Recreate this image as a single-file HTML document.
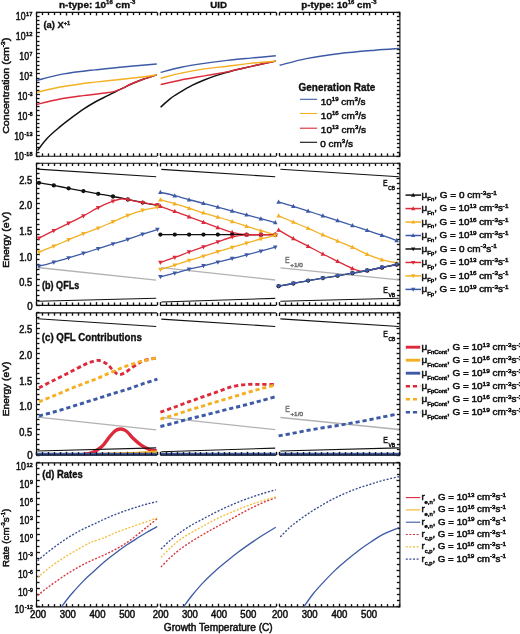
<!DOCTYPE html>
<html><head><meta charset="utf-8"><title>Quasi-Fermi level figure</title>
<style>html,body{margin:0;padding:0;background:#fff;overflow:hidden;}svg{display:block;}</style>
</head><body>
<svg width="520" height="634" viewBox="0 0 520 634" font-family="'Liberation Sans', sans-serif">
<rect width="520" height="634" fill="#fff"/>
<g stroke="#111" stroke-width="1.15" fill="none">
<line x1="36.5" y1="12.3" x2="157.2" y2="12.3"/>
<line x1="36.5" y1="156.2" x2="157.2" y2="156.2"/>
<line x1="160.3" y1="12.3" x2="276.2" y2="12.3"/>
<line x1="160.3" y1="156.2" x2="276.2" y2="156.2"/>
<line x1="279.4" y1="12.3" x2="399.9" y2="12.3"/>
<line x1="279.4" y1="156.2" x2="399.9" y2="156.2"/>
<line x1="36.5" y1="11.75" x2="36.5" y2="156.75"/>
<line x1="399.9" y1="11.75" x2="399.9" y2="156.75"/>
</g><g stroke="#111" stroke-width="1.35" fill="none">
<line x1="36.5" y1="12.3" x2="36.5" y2="15.5"/>
<line x1="36.5" y1="156.2" x2="36.5" y2="153"/>
<line x1="42.5" y1="12.3" x2="42.5" y2="15.1"/>
<line x1="42.5" y1="156.2" x2="42.5" y2="153.4"/>
<line x1="48.5" y1="12.3" x2="48.5" y2="15.1"/>
<line x1="48.5" y1="156.2" x2="48.5" y2="153.4"/>
<line x1="54.5" y1="12.3" x2="54.5" y2="15.1"/>
<line x1="54.5" y1="156.2" x2="54.5" y2="153.4"/>
<line x1="60.5" y1="12.3" x2="60.5" y2="15.1"/>
<line x1="60.5" y1="156.2" x2="60.5" y2="153.4"/>
<line x1="66.5" y1="12.3" x2="66.5" y2="15.5"/>
<line x1="66.5" y1="156.2" x2="66.5" y2="153"/>
<line x1="72.5" y1="12.3" x2="72.5" y2="15.1"/>
<line x1="72.5" y1="156.2" x2="72.5" y2="153.4"/>
<line x1="78.5" y1="12.3" x2="78.5" y2="15.1"/>
<line x1="78.5" y1="156.2" x2="78.5" y2="153.4"/>
<line x1="84.5" y1="12.3" x2="84.5" y2="15.1"/>
<line x1="84.5" y1="156.2" x2="84.5" y2="153.4"/>
<line x1="90.5" y1="12.3" x2="90.5" y2="15.1"/>
<line x1="90.5" y1="156.2" x2="90.5" y2="153.4"/>
<line x1="96.5" y1="12.3" x2="96.5" y2="15.5"/>
<line x1="96.5" y1="156.2" x2="96.5" y2="153"/>
<line x1="102.5" y1="12.3" x2="102.5" y2="15.1"/>
<line x1="102.5" y1="156.2" x2="102.5" y2="153.4"/>
<line x1="108.5" y1="12.3" x2="108.5" y2="15.1"/>
<line x1="108.5" y1="156.2" x2="108.5" y2="153.4"/>
<line x1="114.5" y1="12.3" x2="114.5" y2="15.1"/>
<line x1="114.5" y1="156.2" x2="114.5" y2="153.4"/>
<line x1="120.5" y1="12.3" x2="120.5" y2="15.1"/>
<line x1="120.5" y1="156.2" x2="120.5" y2="153.4"/>
<line x1="127.5" y1="12.3" x2="127.5" y2="15.5"/>
<line x1="127.5" y1="156.2" x2="127.5" y2="153"/>
<line x1="133.5" y1="12.3" x2="133.5" y2="15.1"/>
<line x1="133.5" y1="156.2" x2="133.5" y2="153.4"/>
<line x1="139.5" y1="12.3" x2="139.5" y2="15.1"/>
<line x1="139.5" y1="156.2" x2="139.5" y2="153.4"/>
<line x1="145.5" y1="12.3" x2="145.5" y2="15.1"/>
<line x1="145.5" y1="156.2" x2="145.5" y2="153.4"/>
<line x1="151.5" y1="12.3" x2="151.5" y2="15.1"/>
<line x1="151.5" y1="156.2" x2="151.5" y2="153.4"/>
<line x1="157.5" y1="12.3" x2="157.5" y2="15.5"/>
<line x1="157.5" y1="156.2" x2="157.5" y2="153"/>
<line x1="160.5" y1="12.3" x2="160.5" y2="15.5"/>
<line x1="160.5" y1="156.2" x2="160.5" y2="153"/>
<line x1="166.5" y1="12.3" x2="166.5" y2="15.1"/>
<line x1="166.5" y1="156.2" x2="166.5" y2="153.4"/>
<line x1="171.5" y1="12.3" x2="171.5" y2="15.1"/>
<line x1="171.5" y1="156.2" x2="171.5" y2="153.4"/>
<line x1="177.5" y1="12.3" x2="177.5" y2="15.1"/>
<line x1="177.5" y1="156.2" x2="177.5" y2="153.4"/>
<line x1="183.5" y1="12.3" x2="183.5" y2="15.1"/>
<line x1="183.5" y1="156.2" x2="183.5" y2="153.4"/>
<line x1="189.5" y1="12.3" x2="189.5" y2="15.5"/>
<line x1="189.5" y1="156.2" x2="189.5" y2="153"/>
<line x1="195.5" y1="12.3" x2="195.5" y2="15.1"/>
<line x1="195.5" y1="156.2" x2="195.5" y2="153.4"/>
<line x1="200.5" y1="12.3" x2="200.5" y2="15.1"/>
<line x1="200.5" y1="156.2" x2="200.5" y2="153.4"/>
<line x1="206.5" y1="12.3" x2="206.5" y2="15.1"/>
<line x1="206.5" y1="156.2" x2="206.5" y2="153.4"/>
<line x1="212.5" y1="12.3" x2="212.5" y2="15.1"/>
<line x1="212.5" y1="156.2" x2="212.5" y2="153.4"/>
<line x1="218.5" y1="12.3" x2="218.5" y2="15.5"/>
<line x1="218.5" y1="156.2" x2="218.5" y2="153"/>
<line x1="224.5" y1="12.3" x2="224.5" y2="15.1"/>
<line x1="224.5" y1="156.2" x2="224.5" y2="153.4"/>
<line x1="229.5" y1="12.3" x2="229.5" y2="15.1"/>
<line x1="229.5" y1="156.2" x2="229.5" y2="153.4"/>
<line x1="235.5" y1="12.3" x2="235.5" y2="15.1"/>
<line x1="235.5" y1="156.2" x2="235.5" y2="153.4"/>
<line x1="241.5" y1="12.3" x2="241.5" y2="15.1"/>
<line x1="241.5" y1="156.2" x2="241.5" y2="153.4"/>
<line x1="247.5" y1="12.3" x2="247.5" y2="15.5"/>
<line x1="247.5" y1="156.2" x2="247.5" y2="153"/>
<line x1="253.5" y1="12.3" x2="253.5" y2="15.1"/>
<line x1="253.5" y1="156.2" x2="253.5" y2="153.4"/>
<line x1="258.5" y1="12.3" x2="258.5" y2="15.1"/>
<line x1="258.5" y1="156.2" x2="258.5" y2="153.4"/>
<line x1="264.5" y1="12.3" x2="264.5" y2="15.1"/>
<line x1="264.5" y1="156.2" x2="264.5" y2="153.4"/>
<line x1="270.5" y1="12.3" x2="270.5" y2="15.1"/>
<line x1="270.5" y1="156.2" x2="270.5" y2="153.4"/>
<line x1="276.5" y1="12.3" x2="276.5" y2="15.5"/>
<line x1="276.5" y1="156.2" x2="276.5" y2="153"/>
<line x1="279.5" y1="12.3" x2="279.5" y2="15.5"/>
<line x1="279.5" y1="156.2" x2="279.5" y2="153"/>
<line x1="285.5" y1="12.3" x2="285.5" y2="15.1"/>
<line x1="285.5" y1="156.2" x2="285.5" y2="153.4"/>
<line x1="291.5" y1="12.3" x2="291.5" y2="15.1"/>
<line x1="291.5" y1="156.2" x2="291.5" y2="153.4"/>
<line x1="297.5" y1="12.3" x2="297.5" y2="15.1"/>
<line x1="297.5" y1="156.2" x2="297.5" y2="153.4"/>
<line x1="303.5" y1="12.3" x2="303.5" y2="15.1"/>
<line x1="303.5" y1="156.2" x2="303.5" y2="153.4"/>
<line x1="309.5" y1="12.3" x2="309.5" y2="15.5"/>
<line x1="309.5" y1="156.2" x2="309.5" y2="153"/>
<line x1="315.5" y1="12.3" x2="315.5" y2="15.1"/>
<line x1="315.5" y1="156.2" x2="315.5" y2="153.4"/>
<line x1="321.5" y1="12.3" x2="321.5" y2="15.1"/>
<line x1="321.5" y1="156.2" x2="321.5" y2="153.4"/>
<line x1="327.5" y1="12.3" x2="327.5" y2="15.1"/>
<line x1="327.5" y1="156.2" x2="327.5" y2="153.4"/>
<line x1="333.5" y1="12.3" x2="333.5" y2="15.1"/>
<line x1="333.5" y1="156.2" x2="333.5" y2="153.4"/>
<line x1="339.5" y1="12.3" x2="339.5" y2="15.5"/>
<line x1="339.5" y1="156.2" x2="339.5" y2="153"/>
<line x1="345.5" y1="12.3" x2="345.5" y2="15.1"/>
<line x1="345.5" y1="156.2" x2="345.5" y2="153.4"/>
<line x1="351.5" y1="12.3" x2="351.5" y2="15.1"/>
<line x1="351.5" y1="156.2" x2="351.5" y2="153.4"/>
<line x1="357.5" y1="12.3" x2="357.5" y2="15.1"/>
<line x1="357.5" y1="156.2" x2="357.5" y2="153.4"/>
<line x1="363.5" y1="12.3" x2="363.5" y2="15.1"/>
<line x1="363.5" y1="156.2" x2="363.5" y2="153.4"/>
<line x1="369.5" y1="12.3" x2="369.5" y2="15.5"/>
<line x1="369.5" y1="156.2" x2="369.5" y2="153"/>
<line x1="375.5" y1="12.3" x2="375.5" y2="15.1"/>
<line x1="375.5" y1="156.2" x2="375.5" y2="153.4"/>
<line x1="381.5" y1="12.3" x2="381.5" y2="15.1"/>
<line x1="381.5" y1="156.2" x2="381.5" y2="153.4"/>
<line x1="387.5" y1="12.3" x2="387.5" y2="15.1"/>
<line x1="387.5" y1="156.2" x2="387.5" y2="153.4"/>
<line x1="393.5" y1="12.3" x2="393.5" y2="15.1"/>
<line x1="393.5" y1="156.2" x2="393.5" y2="153.4"/>
<line x1="399.5" y1="12.3" x2="399.5" y2="15.5"/>
<line x1="399.5" y1="156.2" x2="399.5" y2="153"/>
<line x1="36.5" y1="156.5" x2="39.9" y2="156.5"/>
<line x1="399.9" y1="156.5" x2="396.5" y2="156.5"/>
<line x1="36.5" y1="152.5" x2="39.5" y2="152.5"/>
<line x1="399.9" y1="152.5" x2="396.9" y2="152.5"/>
<line x1="36.5" y1="147.5" x2="39.5" y2="147.5"/>
<line x1="399.9" y1="147.5" x2="396.9" y2="147.5"/>
<line x1="36.5" y1="143.5" x2="39.5" y2="143.5"/>
<line x1="399.9" y1="143.5" x2="396.9" y2="143.5"/>
<line x1="36.5" y1="139.5" x2="39.5" y2="139.5"/>
<line x1="399.9" y1="139.5" x2="396.9" y2="139.5"/>
<line x1="36.5" y1="135.5" x2="39.9" y2="135.5"/>
<line x1="399.9" y1="135.5" x2="396.5" y2="135.5"/>
<line x1="36.5" y1="131.5" x2="39.5" y2="131.5"/>
<line x1="399.9" y1="131.5" x2="396.9" y2="131.5"/>
<line x1="36.5" y1="127.5" x2="39.5" y2="127.5"/>
<line x1="399.9" y1="127.5" x2="396.9" y2="127.5"/>
<line x1="36.5" y1="123.5" x2="39.5" y2="123.5"/>
<line x1="399.9" y1="123.5" x2="396.9" y2="123.5"/>
<line x1="36.5" y1="119.5" x2="39.5" y2="119.5"/>
<line x1="399.9" y1="119.5" x2="396.9" y2="119.5"/>
<line x1="36.5" y1="115.5" x2="39.9" y2="115.5"/>
<line x1="399.9" y1="115.5" x2="396.5" y2="115.5"/>
<line x1="36.5" y1="110.5" x2="39.5" y2="110.5"/>
<line x1="399.9" y1="110.5" x2="396.9" y2="110.5"/>
<line x1="36.5" y1="106.5" x2="39.5" y2="106.5"/>
<line x1="399.9" y1="106.5" x2="396.9" y2="106.5"/>
<line x1="36.5" y1="102.5" x2="39.5" y2="102.5"/>
<line x1="399.9" y1="102.5" x2="396.9" y2="102.5"/>
<line x1="36.5" y1="98.5" x2="39.5" y2="98.5"/>
<line x1="399.9" y1="98.5" x2="396.9" y2="98.5"/>
<line x1="36.5" y1="94.5" x2="39.9" y2="94.5"/>
<line x1="399.9" y1="94.5" x2="396.5" y2="94.5"/>
<line x1="36.5" y1="90.5" x2="39.5" y2="90.5"/>
<line x1="399.9" y1="90.5" x2="396.9" y2="90.5"/>
<line x1="36.5" y1="86.5" x2="39.5" y2="86.5"/>
<line x1="399.9" y1="86.5" x2="396.9" y2="86.5"/>
<line x1="36.5" y1="82.5" x2="39.5" y2="82.5"/>
<line x1="399.9" y1="82.5" x2="396.9" y2="82.5"/>
<line x1="36.5" y1="78.5" x2="39.5" y2="78.5"/>
<line x1="399.9" y1="78.5" x2="396.9" y2="78.5"/>
<line x1="36.5" y1="73.5" x2="39.9" y2="73.5"/>
<line x1="399.9" y1="73.5" x2="396.5" y2="73.5"/>
<line x1="36.5" y1="69.5" x2="39.5" y2="69.5"/>
<line x1="399.9" y1="69.5" x2="396.9" y2="69.5"/>
<line x1="36.5" y1="65.5" x2="39.5" y2="65.5"/>
<line x1="399.9" y1="65.5" x2="396.9" y2="65.5"/>
<line x1="36.5" y1="61.5" x2="39.5" y2="61.5"/>
<line x1="399.9" y1="61.5" x2="396.9" y2="61.5"/>
<line x1="36.5" y1="57.5" x2="39.5" y2="57.5"/>
<line x1="399.9" y1="57.5" x2="396.9" y2="57.5"/>
<line x1="36.5" y1="53.5" x2="39.9" y2="53.5"/>
<line x1="399.9" y1="53.5" x2="396.5" y2="53.5"/>
<line x1="36.5" y1="49.5" x2="39.5" y2="49.5"/>
<line x1="399.9" y1="49.5" x2="396.9" y2="49.5"/>
<line x1="36.5" y1="45.5" x2="39.5" y2="45.5"/>
<line x1="399.9" y1="45.5" x2="396.9" y2="45.5"/>
<line x1="36.5" y1="41.5" x2="39.5" y2="41.5"/>
<line x1="399.9" y1="41.5" x2="396.9" y2="41.5"/>
<line x1="36.5" y1="36.5" x2="39.5" y2="36.5"/>
<line x1="399.9" y1="36.5" x2="396.9" y2="36.5"/>
<line x1="36.5" y1="32.5" x2="39.9" y2="32.5"/>
<line x1="399.9" y1="32.5" x2="396.5" y2="32.5"/>
<line x1="36.5" y1="28.5" x2="39.5" y2="28.5"/>
<line x1="399.9" y1="28.5" x2="396.9" y2="28.5"/>
<line x1="36.5" y1="24.5" x2="39.5" y2="24.5"/>
<line x1="399.9" y1="24.5" x2="396.9" y2="24.5"/>
<line x1="36.5" y1="20.5" x2="39.5" y2="20.5"/>
<line x1="399.9" y1="20.5" x2="396.9" y2="20.5"/>
<line x1="36.5" y1="16.5" x2="39.5" y2="16.5"/>
<line x1="399.9" y1="16.5" x2="396.9" y2="16.5"/>
<line x1="36.5" y1="12.5" x2="39.9" y2="12.5"/>
<line x1="399.9" y1="12.5" x2="396.5" y2="12.5"/>
</g>
<path d="M37.5,150.5 C39.08,148.5 43.42,142.32 47,138.5 C50.58,134.68 55,130.98 59,127.6 C63,124.22 66.98,121.23 71,118.2 C75.02,115.17 79.08,112.1 83.1,109.4 C87.12,106.7 91.1,104.25 95.1,102 C99.1,99.75 103.5,97.73 107.1,95.9 C110.7,94.07 113.88,92.38 116.7,91 C119.52,89.62 121.58,88.77 124,87.6 C126.42,86.43 128,85.4 131.2,84 C134.4,82.6 138.93,80.73 143.2,79.2 C147.47,77.67 154.53,75.53 156.8,74.8" fill="none" stroke="#111" stroke-width="1.45" stroke-linejoin="round"/>
<path d="M36.9,104.4 C40.58,103.53 51.3,100.67 59,99.2 C66.7,97.73 77.1,96.42 83.1,95.6 C89.1,94.78 91,94.77 95,94.3 C99,93.83 103.93,93.25 107.1,92.8 C110.27,92.35 112.02,92.08 114,91.6 C115.98,91.12 117.33,90.57 119,89.9 C120.67,89.23 121.97,88.58 124,87.6 C126.03,86.62 128,85.4 131.2,84 C134.4,82.6 138.93,80.73 143.2,79.2 C147.47,77.67 154.53,75.53 156.8,74.8" fill="none" stroke="#dc2a3a" stroke-width="1.45" stroke-linejoin="round"/>
<path d="M36.9,92.4 C40.75,91.5 51.98,88.52 60,87 C68.02,85.48 79.17,84.12 85,83.3 C90.83,82.48 89.17,82.73 95,82.1 C100.83,81.47 112.08,80.35 120,79.5 C127.92,78.65 136.37,77.78 142.5,77 C148.63,76.22 154.42,75.17 156.8,74.8" fill="none" stroke="#f4b023" stroke-width="1.45" stroke-linejoin="round"/>
<path d="M36.9,80.4 C40.75,79.43 51.98,76.17 60,74.6 C68.02,73.03 79.17,71.78 85,71 C90.83,70.22 89.17,70.52 95,69.9 C100.83,69.28 109.7,68.28 120,67.3 C130.3,66.32 150.67,64.55 156.8,64" fill="none" stroke="#3d5aa6" stroke-width="1.45" stroke-linejoin="round"/>
<path d="M160.6,107.3 C162.17,105.88 166.58,101.42 170,98.8 C173.42,96.18 177.43,93.83 181.1,91.6 C184.77,89.37 188.15,87.33 192,85.4 C195.85,83.47 200.2,81.63 204.2,80 C208.2,78.37 212.15,76.88 216,75.6 C219.85,74.32 224.27,73.18 227.3,72.3 C230.33,71.42 231.75,70.93 234.2,70.3 C236.65,69.67 239.3,69.12 242,68.5 C244.7,67.88 247.07,67.35 250.4,66.6 C253.73,65.85 257.77,64.92 262,64 C266.23,63.08 273.5,61.58 275.8,61.1" fill="none" stroke="#111" stroke-width="1.45" stroke-linejoin="round"/>
<path d="M160.6,84.6 C164.02,83.83 173.83,81.45 181.1,80 C188.37,78.55 196.5,77.25 204.2,75.9 C211.9,74.55 222.3,72.83 227.3,71.9 C232.3,70.97 231.75,70.87 234.2,70.3 C236.65,69.73 239.3,69.12 242,68.5 C244.7,67.88 247.07,67.35 250.4,66.6 C253.73,65.85 257.77,64.92 262,64 C266.23,63.08 273.5,61.58 275.8,61.1" fill="none" stroke="#dc2a3a" stroke-width="1.45" stroke-linejoin="round"/>
<path d="M160.6,78.2 C164.02,77.35 173.83,74.65 181.1,73.1 C188.37,71.55 196.5,70.05 204.2,68.9 C211.9,67.75 219.6,67.12 227.3,66.2 C235,65.28 242.32,64.25 250.4,63.4 C258.48,62.55 271.57,61.48 275.8,61.1" fill="none" stroke="#f4b023" stroke-width="1.45" stroke-linejoin="round"/>
<path d="M160.6,72.4 C164.02,71.55 173.83,68.8 181.1,67.3 C188.37,65.8 196.5,64.55 204.2,63.4 C211.9,62.25 219.6,61.28 227.3,60.4 C235,59.52 242.32,58.87 250.4,58.1 C258.48,57.33 271.57,56.18 275.8,55.8" fill="none" stroke="#3d5aa6" stroke-width="1.45" stroke-linejoin="round"/>
<path d="M279.6,65.3 C284.25,64.15 297.43,60.37 307.5,58.4 C317.57,56.43 328.75,54.87 340,53.5 C351.25,52.13 365.17,51.03 375,50.2 C384.83,49.37 395,48.78 399,48.5" fill="none" stroke="#3d5aa6" stroke-width="1.45" stroke-linejoin="round"/>
<text x="59" y="7.8" font-size="9.6" font-weight="bold" fill="#111" stroke="#111" stroke-width="0.35" textLength="76.4" lengthAdjust="spacingAndGlyphs">n-type: 10<tspan font-size="5.8" dy="-3.6">16</tspan><tspan dy="3.6"> cm</tspan><tspan font-size="5.8" dy="-3.6">-3</tspan></text>
<text x="210.2" y="7.6" font-size="9.6" font-weight="bold" fill="#111" stroke="#111" stroke-width="0.35" textLength="16.7" lengthAdjust="spacingAndGlyphs">UID</text>
<text x="301.3" y="7.8" font-size="9.6" font-weight="bold" fill="#111" stroke="#111" stroke-width="0.35" textLength="75.2" lengthAdjust="spacingAndGlyphs">p-type: 10<tspan font-size="5.8" dy="-3.6">16</tspan><tspan dy="3.6"> cm</tspan><tspan font-size="5.8" dy="-3.6">-3</tspan></text>
<text x="15.8" y="19.9" font-size="10" font-weight="normal" fill="#111" stroke="#111" stroke-width="0.5" textLength="9.7" lengthAdjust="spacingAndGlyphs">10</text>
<text x="26.1" y="16" font-size="5.4" font-weight="normal" fill="#111" stroke="#111" stroke-width="0.5" textLength="6.4" lengthAdjust="spacingAndGlyphs">17</text>
<text x="15.8" y="39.9" font-size="10" font-weight="normal" fill="#111" stroke="#111" stroke-width="0.5" textLength="9.7" lengthAdjust="spacingAndGlyphs">10</text>
<text x="26.1" y="36" font-size="5.4" font-weight="normal" fill="#111" stroke="#111" stroke-width="0.5" textLength="6.4" lengthAdjust="spacingAndGlyphs">12</text>
<text x="19.3" y="59.9" font-size="10" font-weight="normal" fill="#111" stroke="#111" stroke-width="0.5" textLength="9.7" lengthAdjust="spacingAndGlyphs">10</text>
<text x="29.6" y="56" font-size="5.4" font-weight="normal" fill="#111" stroke="#111" stroke-width="0.5" textLength="2.9" lengthAdjust="spacingAndGlyphs">7</text>
<text x="19.3" y="79.9" font-size="10" font-weight="normal" fill="#111" stroke="#111" stroke-width="0.5" textLength="9.7" lengthAdjust="spacingAndGlyphs">10</text>
<text x="29.6" y="76" font-size="5.4" font-weight="normal" fill="#111" stroke="#111" stroke-width="0.5" textLength="2.9" lengthAdjust="spacingAndGlyphs">2</text>
<text x="17.7" y="99.9" font-size="10" font-weight="normal" fill="#111" stroke="#111" stroke-width="0.5" textLength="9.7" lengthAdjust="spacingAndGlyphs">10</text>
<text x="28" y="96" font-size="5.4" font-weight="normal" fill="#111" stroke="#111" stroke-width="0.5" textLength="4.5" lengthAdjust="spacingAndGlyphs">-3</text>
<text x="17.7" y="119.9" font-size="10" font-weight="normal" fill="#111" stroke="#111" stroke-width="0.5" textLength="9.7" lengthAdjust="spacingAndGlyphs">10</text>
<text x="28" y="116" font-size="5.4" font-weight="normal" fill="#111" stroke="#111" stroke-width="0.5" textLength="4.5" lengthAdjust="spacingAndGlyphs">-8</text>
<text x="14.2" y="139.9" font-size="10" font-weight="normal" fill="#111" stroke="#111" stroke-width="0.5" textLength="9.7" lengthAdjust="spacingAndGlyphs">10</text>
<text x="24.5" y="136" font-size="5.4" font-weight="normal" fill="#111" stroke="#111" stroke-width="0.5" textLength="8" lengthAdjust="spacingAndGlyphs">-13</text>
<text x="14.2" y="159.9" font-size="10" font-weight="normal" fill="#111" stroke="#111" stroke-width="0.5" textLength="9.7" lengthAdjust="spacingAndGlyphs">10</text>
<text x="24.5" y="156" font-size="5.4" font-weight="normal" fill="#111" stroke="#111" stroke-width="0.5" textLength="8" lengthAdjust="spacingAndGlyphs">-18</text>
<text x="0" y="0" font-size="9.8" font-weight="normal" fill="#111" stroke="#111" stroke-width="0.5" textLength="96" lengthAdjust="spacingAndGlyphs" transform="translate(8.6,133.8) rotate(-90)">Concentration (cm<tspan font-size="6" dy="-3.6">-3</tspan><tspan dy="3.6">)</tspan></text>
<text x="43.5" y="28.3" font-size="9.6" font-weight="bold" fill="#111" stroke="#111" stroke-width="0.35" textLength="26.6" lengthAdjust="spacingAndGlyphs">(a) X<tspan font-size="5.8" dy="-3.8">+1</tspan></text>
<text x="298.6" y="90.9" font-size="10" font-weight="bold" fill="#111" stroke="#111" stroke-width="0.35" textLength="76.8" lengthAdjust="spacingAndGlyphs">Generation Rate</text>
<line x1="299.9" y1="99.3" x2="317.1" y2="99.3" stroke="#3d5aa6" stroke-width="1.1"/>
<text x="320.8" y="104.5" font-size="9.6" font-weight="normal" fill="#111" stroke="#111" stroke-width="0.5" textLength="44.8" lengthAdjust="spacingAndGlyphs">10<tspan font-size="5.8" dy="-3.8">19</tspan><tspan dy="3.8"> cm</tspan><tspan font-size="5.8" dy="-3.8">3</tspan><tspan dy="3.8">/s</tspan></text>
<line x1="299.9" y1="113.5" x2="317.1" y2="113.5" stroke="#f4b023" stroke-width="1.1"/>
<text x="320.8" y="118.9" font-size="9.6" font-weight="normal" fill="#111" stroke="#111" stroke-width="0.5" textLength="45.3" lengthAdjust="spacingAndGlyphs">10<tspan font-size="5.8" dy="-3.8">16</tspan><tspan dy="3.8"> cm</tspan><tspan font-size="5.8" dy="-3.8">3</tspan><tspan dy="3.8">/s</tspan></text>
<line x1="299.9" y1="128.2" x2="317.1" y2="128.2" stroke="#dc2a3a" stroke-width="1.1"/>
<text x="320.8" y="133.1" font-size="9.6" font-weight="normal" fill="#111" stroke="#111" stroke-width="0.5" textLength="45.3" lengthAdjust="spacingAndGlyphs">10<tspan font-size="5.8" dy="-3.8">13</tspan><tspan dy="3.8"> cm</tspan><tspan font-size="5.8" dy="-3.8">3</tspan><tspan dy="3.8">/s</tspan></text>
<line x1="299.9" y1="142.3" x2="317.1" y2="142.3" stroke="#111" stroke-width="1.1"/>
<text x="320.3" y="147.2" font-size="9.6" font-weight="normal" fill="#111" stroke="#111" stroke-width="0.5" textLength="32.7" lengthAdjust="spacingAndGlyphs">0 cm<tspan font-size="5.8" dy="-3.8">3</tspan><tspan dy="3.8">/s</tspan></text>
<g stroke="#111" stroke-width="1.15" fill="none">
<line x1="36.5" y1="163.2" x2="157.2" y2="163.2"/>
<line x1="36.5" y1="305.3" x2="157.2" y2="305.3"/>
<line x1="160.3" y1="163.2" x2="276.2" y2="163.2"/>
<line x1="160.3" y1="305.3" x2="276.2" y2="305.3"/>
<line x1="279.4" y1="163.2" x2="399.9" y2="163.2"/>
<line x1="279.4" y1="305.3" x2="399.9" y2="305.3"/>
<line x1="36.5" y1="162.65" x2="36.5" y2="305.85"/>
<line x1="399.9" y1="162.65" x2="399.9" y2="305.85"/>
</g><g stroke="#111" stroke-width="1.35" fill="none">
<line x1="36.5" y1="163.2" x2="36.5" y2="166.4"/>
<line x1="36.5" y1="305.3" x2="36.5" y2="302.1"/>
<line x1="42.5" y1="163.2" x2="42.5" y2="166"/>
<line x1="42.5" y1="305.3" x2="42.5" y2="302.5"/>
<line x1="48.5" y1="163.2" x2="48.5" y2="166"/>
<line x1="48.5" y1="305.3" x2="48.5" y2="302.5"/>
<line x1="54.5" y1="163.2" x2="54.5" y2="166"/>
<line x1="54.5" y1="305.3" x2="54.5" y2="302.5"/>
<line x1="60.5" y1="163.2" x2="60.5" y2="166"/>
<line x1="60.5" y1="305.3" x2="60.5" y2="302.5"/>
<line x1="66.5" y1="163.2" x2="66.5" y2="166.4"/>
<line x1="66.5" y1="305.3" x2="66.5" y2="302.1"/>
<line x1="72.5" y1="163.2" x2="72.5" y2="166"/>
<line x1="72.5" y1="305.3" x2="72.5" y2="302.5"/>
<line x1="78.5" y1="163.2" x2="78.5" y2="166"/>
<line x1="78.5" y1="305.3" x2="78.5" y2="302.5"/>
<line x1="84.5" y1="163.2" x2="84.5" y2="166"/>
<line x1="84.5" y1="305.3" x2="84.5" y2="302.5"/>
<line x1="90.5" y1="163.2" x2="90.5" y2="166"/>
<line x1="90.5" y1="305.3" x2="90.5" y2="302.5"/>
<line x1="96.5" y1="163.2" x2="96.5" y2="166.4"/>
<line x1="96.5" y1="305.3" x2="96.5" y2="302.1"/>
<line x1="102.5" y1="163.2" x2="102.5" y2="166"/>
<line x1="102.5" y1="305.3" x2="102.5" y2="302.5"/>
<line x1="108.5" y1="163.2" x2="108.5" y2="166"/>
<line x1="108.5" y1="305.3" x2="108.5" y2="302.5"/>
<line x1="114.5" y1="163.2" x2="114.5" y2="166"/>
<line x1="114.5" y1="305.3" x2="114.5" y2="302.5"/>
<line x1="120.5" y1="163.2" x2="120.5" y2="166"/>
<line x1="120.5" y1="305.3" x2="120.5" y2="302.5"/>
<line x1="127.5" y1="163.2" x2="127.5" y2="166.4"/>
<line x1="127.5" y1="305.3" x2="127.5" y2="302.1"/>
<line x1="133.5" y1="163.2" x2="133.5" y2="166"/>
<line x1="133.5" y1="305.3" x2="133.5" y2="302.5"/>
<line x1="139.5" y1="163.2" x2="139.5" y2="166"/>
<line x1="139.5" y1="305.3" x2="139.5" y2="302.5"/>
<line x1="145.5" y1="163.2" x2="145.5" y2="166"/>
<line x1="145.5" y1="305.3" x2="145.5" y2="302.5"/>
<line x1="151.5" y1="163.2" x2="151.5" y2="166"/>
<line x1="151.5" y1="305.3" x2="151.5" y2="302.5"/>
<line x1="157.5" y1="163.2" x2="157.5" y2="166.4"/>
<line x1="157.5" y1="305.3" x2="157.5" y2="302.1"/>
<line x1="160.5" y1="163.2" x2="160.5" y2="166.4"/>
<line x1="160.5" y1="305.3" x2="160.5" y2="302.1"/>
<line x1="166.5" y1="163.2" x2="166.5" y2="166"/>
<line x1="166.5" y1="305.3" x2="166.5" y2="302.5"/>
<line x1="171.5" y1="163.2" x2="171.5" y2="166"/>
<line x1="171.5" y1="305.3" x2="171.5" y2="302.5"/>
<line x1="177.5" y1="163.2" x2="177.5" y2="166"/>
<line x1="177.5" y1="305.3" x2="177.5" y2="302.5"/>
<line x1="183.5" y1="163.2" x2="183.5" y2="166"/>
<line x1="183.5" y1="305.3" x2="183.5" y2="302.5"/>
<line x1="189.5" y1="163.2" x2="189.5" y2="166.4"/>
<line x1="189.5" y1="305.3" x2="189.5" y2="302.1"/>
<line x1="195.5" y1="163.2" x2="195.5" y2="166"/>
<line x1="195.5" y1="305.3" x2="195.5" y2="302.5"/>
<line x1="200.5" y1="163.2" x2="200.5" y2="166"/>
<line x1="200.5" y1="305.3" x2="200.5" y2="302.5"/>
<line x1="206.5" y1="163.2" x2="206.5" y2="166"/>
<line x1="206.5" y1="305.3" x2="206.5" y2="302.5"/>
<line x1="212.5" y1="163.2" x2="212.5" y2="166"/>
<line x1="212.5" y1="305.3" x2="212.5" y2="302.5"/>
<line x1="218.5" y1="163.2" x2="218.5" y2="166.4"/>
<line x1="218.5" y1="305.3" x2="218.5" y2="302.1"/>
<line x1="224.5" y1="163.2" x2="224.5" y2="166"/>
<line x1="224.5" y1="305.3" x2="224.5" y2="302.5"/>
<line x1="229.5" y1="163.2" x2="229.5" y2="166"/>
<line x1="229.5" y1="305.3" x2="229.5" y2="302.5"/>
<line x1="235.5" y1="163.2" x2="235.5" y2="166"/>
<line x1="235.5" y1="305.3" x2="235.5" y2="302.5"/>
<line x1="241.5" y1="163.2" x2="241.5" y2="166"/>
<line x1="241.5" y1="305.3" x2="241.5" y2="302.5"/>
<line x1="247.5" y1="163.2" x2="247.5" y2="166.4"/>
<line x1="247.5" y1="305.3" x2="247.5" y2="302.1"/>
<line x1="253.5" y1="163.2" x2="253.5" y2="166"/>
<line x1="253.5" y1="305.3" x2="253.5" y2="302.5"/>
<line x1="258.5" y1="163.2" x2="258.5" y2="166"/>
<line x1="258.5" y1="305.3" x2="258.5" y2="302.5"/>
<line x1="264.5" y1="163.2" x2="264.5" y2="166"/>
<line x1="264.5" y1="305.3" x2="264.5" y2="302.5"/>
<line x1="270.5" y1="163.2" x2="270.5" y2="166"/>
<line x1="270.5" y1="305.3" x2="270.5" y2="302.5"/>
<line x1="276.5" y1="163.2" x2="276.5" y2="166.4"/>
<line x1="276.5" y1="305.3" x2="276.5" y2="302.1"/>
<line x1="279.5" y1="163.2" x2="279.5" y2="166.4"/>
<line x1="279.5" y1="305.3" x2="279.5" y2="302.1"/>
<line x1="285.5" y1="163.2" x2="285.5" y2="166"/>
<line x1="285.5" y1="305.3" x2="285.5" y2="302.5"/>
<line x1="291.5" y1="163.2" x2="291.5" y2="166"/>
<line x1="291.5" y1="305.3" x2="291.5" y2="302.5"/>
<line x1="297.5" y1="163.2" x2="297.5" y2="166"/>
<line x1="297.5" y1="305.3" x2="297.5" y2="302.5"/>
<line x1="303.5" y1="163.2" x2="303.5" y2="166"/>
<line x1="303.5" y1="305.3" x2="303.5" y2="302.5"/>
<line x1="309.5" y1="163.2" x2="309.5" y2="166.4"/>
<line x1="309.5" y1="305.3" x2="309.5" y2="302.1"/>
<line x1="315.5" y1="163.2" x2="315.5" y2="166"/>
<line x1="315.5" y1="305.3" x2="315.5" y2="302.5"/>
<line x1="321.5" y1="163.2" x2="321.5" y2="166"/>
<line x1="321.5" y1="305.3" x2="321.5" y2="302.5"/>
<line x1="327.5" y1="163.2" x2="327.5" y2="166"/>
<line x1="327.5" y1="305.3" x2="327.5" y2="302.5"/>
<line x1="333.5" y1="163.2" x2="333.5" y2="166"/>
<line x1="333.5" y1="305.3" x2="333.5" y2="302.5"/>
<line x1="339.5" y1="163.2" x2="339.5" y2="166.4"/>
<line x1="339.5" y1="305.3" x2="339.5" y2="302.1"/>
<line x1="345.5" y1="163.2" x2="345.5" y2="166"/>
<line x1="345.5" y1="305.3" x2="345.5" y2="302.5"/>
<line x1="351.5" y1="163.2" x2="351.5" y2="166"/>
<line x1="351.5" y1="305.3" x2="351.5" y2="302.5"/>
<line x1="357.5" y1="163.2" x2="357.5" y2="166"/>
<line x1="357.5" y1="305.3" x2="357.5" y2="302.5"/>
<line x1="363.5" y1="163.2" x2="363.5" y2="166"/>
<line x1="363.5" y1="305.3" x2="363.5" y2="302.5"/>
<line x1="369.5" y1="163.2" x2="369.5" y2="166.4"/>
<line x1="369.5" y1="305.3" x2="369.5" y2="302.1"/>
<line x1="375.5" y1="163.2" x2="375.5" y2="166"/>
<line x1="375.5" y1="305.3" x2="375.5" y2="302.5"/>
<line x1="381.5" y1="163.2" x2="381.5" y2="166"/>
<line x1="381.5" y1="305.3" x2="381.5" y2="302.5"/>
<line x1="387.5" y1="163.2" x2="387.5" y2="166"/>
<line x1="387.5" y1="305.3" x2="387.5" y2="302.5"/>
<line x1="393.5" y1="163.2" x2="393.5" y2="166"/>
<line x1="393.5" y1="305.3" x2="393.5" y2="302.5"/>
<line x1="399.5" y1="163.2" x2="399.5" y2="166.4"/>
<line x1="399.5" y1="305.3" x2="399.5" y2="302.1"/>
<line x1="36.5" y1="305.5" x2="39.9" y2="305.5"/>
<line x1="399.9" y1="305.5" x2="396.5" y2="305.5"/>
<line x1="36.5" y1="300.5" x2="39.5" y2="300.5"/>
<line x1="399.9" y1="300.5" x2="396.9" y2="300.5"/>
<line x1="36.5" y1="295.5" x2="39.5" y2="295.5"/>
<line x1="399.9" y1="295.5" x2="396.9" y2="295.5"/>
<line x1="36.5" y1="290.5" x2="39.5" y2="290.5"/>
<line x1="399.9" y1="290.5" x2="396.9" y2="290.5"/>
<line x1="36.5" y1="285.5" x2="39.5" y2="285.5"/>
<line x1="399.9" y1="285.5" x2="396.9" y2="285.5"/>
<line x1="36.5" y1="279.5" x2="39.9" y2="279.5"/>
<line x1="399.9" y1="279.5" x2="396.5" y2="279.5"/>
<line x1="36.5" y1="274.5" x2="39.5" y2="274.5"/>
<line x1="399.9" y1="274.5" x2="396.9" y2="274.5"/>
<line x1="36.5" y1="269.5" x2="39.5" y2="269.5"/>
<line x1="399.9" y1="269.5" x2="396.9" y2="269.5"/>
<line x1="36.5" y1="264.5" x2="39.5" y2="264.5"/>
<line x1="399.9" y1="264.5" x2="396.9" y2="264.5"/>
<line x1="36.5" y1="259.5" x2="39.5" y2="259.5"/>
<line x1="399.9" y1="259.5" x2="396.9" y2="259.5"/>
<line x1="36.5" y1="254.5" x2="39.9" y2="254.5"/>
<line x1="399.9" y1="254.5" x2="396.5" y2="254.5"/>
<line x1="36.5" y1="249.5" x2="39.5" y2="249.5"/>
<line x1="399.9" y1="249.5" x2="396.9" y2="249.5"/>
<line x1="36.5" y1="244.5" x2="39.5" y2="244.5"/>
<line x1="399.9" y1="244.5" x2="396.9" y2="244.5"/>
<line x1="36.5" y1="239.5" x2="39.5" y2="239.5"/>
<line x1="399.9" y1="239.5" x2="396.9" y2="239.5"/>
<line x1="36.5" y1="234.5" x2="39.5" y2="234.5"/>
<line x1="399.9" y1="234.5" x2="396.9" y2="234.5"/>
<line x1="36.5" y1="229.5" x2="39.9" y2="229.5"/>
<line x1="399.9" y1="229.5" x2="396.5" y2="229.5"/>
<line x1="36.5" y1="224.5" x2="39.5" y2="224.5"/>
<line x1="399.9" y1="224.5" x2="396.9" y2="224.5"/>
<line x1="36.5" y1="219.5" x2="39.5" y2="219.5"/>
<line x1="399.9" y1="219.5" x2="396.9" y2="219.5"/>
<line x1="36.5" y1="213.5" x2="39.5" y2="213.5"/>
<line x1="399.9" y1="213.5" x2="396.9" y2="213.5"/>
<line x1="36.5" y1="208.5" x2="39.5" y2="208.5"/>
<line x1="399.9" y1="208.5" x2="396.9" y2="208.5"/>
<line x1="36.5" y1="203.5" x2="39.9" y2="203.5"/>
<line x1="399.9" y1="203.5" x2="396.5" y2="203.5"/>
<line x1="36.5" y1="198.5" x2="39.5" y2="198.5"/>
<line x1="399.9" y1="198.5" x2="396.9" y2="198.5"/>
<line x1="36.5" y1="193.5" x2="39.5" y2="193.5"/>
<line x1="399.9" y1="193.5" x2="396.9" y2="193.5"/>
<line x1="36.5" y1="188.5" x2="39.5" y2="188.5"/>
<line x1="399.9" y1="188.5" x2="396.9" y2="188.5"/>
<line x1="36.5" y1="183.5" x2="39.5" y2="183.5"/>
<line x1="399.9" y1="183.5" x2="396.9" y2="183.5"/>
<line x1="36.5" y1="178.5" x2="39.9" y2="178.5"/>
<line x1="399.9" y1="178.5" x2="396.5" y2="178.5"/>
<line x1="36.5" y1="173.5" x2="39.5" y2="173.5"/>
<line x1="399.9" y1="173.5" x2="396.9" y2="173.5"/>
<line x1="36.5" y1="168.5" x2="39.5" y2="168.5"/>
<line x1="399.9" y1="168.5" x2="396.9" y2="168.5"/>
<line x1="36.5" y1="163.5" x2="39.5" y2="163.5"/>
<line x1="399.9" y1="163.5" x2="396.9" y2="163.5"/>
</g>
<line x1="37.5" y1="169.1" x2="156.2" y2="176.8" stroke="#111" stroke-width="1.1"/>
<line x1="37.5" y1="267.5" x2="156.2" y2="280.2" stroke="#b2b2b2" stroke-width="1.3"/>
<line x1="37.5" y1="301.3" x2="156.2" y2="298.2" stroke="#111" stroke-width="1.1"/>
<line x1="161.3" y1="169.4" x2="275.2" y2="176.8" stroke="#111" stroke-width="1.1"/>
<line x1="161.3" y1="267.6" x2="275.2" y2="280" stroke="#b2b2b2" stroke-width="1.3"/>
<line x1="161.3" y1="302" x2="275.2" y2="298.4" stroke="#111" stroke-width="1.1"/>
<line x1="280.4" y1="169.2" x2="398.9" y2="176.8" stroke="#111" stroke-width="1.1"/>
<line x1="280.4" y1="267.8" x2="398.9" y2="279.8" stroke="#b2b2b2" stroke-width="1.3"/>
<line x1="280.4" y1="301.3" x2="398.9" y2="298.2" stroke="#111" stroke-width="1.1"/>
<path d="M39,182.8 C41.47,183.23 48.87,184.48 53.8,185.4 C58.73,186.32 63.67,187.35 68.6,188.3 C73.53,189.25 78.47,190.18 83.4,191.1 C88.33,192.02 93.27,192.9 98.2,193.8 C103.13,194.7 108.07,195.55 113,196.5 C117.93,197.45 122.87,198.48 127.8,199.5 C132.73,200.52 137.67,201.63 142.6,202.6 C147.53,203.57 154.93,204.85 157.4,205.3" fill="none" stroke="#111" stroke-width="1.3" stroke-linejoin="round"/>
<circle cx="39" cy="182.8" r="2.15" fill="#111"/>
<circle cx="53.8" cy="185.4" r="2.15" fill="#111"/>
<circle cx="68.6" cy="188.3" r="2.15" fill="#111"/>
<circle cx="83.4" cy="191.1" r="2.15" fill="#111"/>
<circle cx="98.2" cy="193.8" r="2.15" fill="#111"/>
<circle cx="113" cy="196.5" r="2.15" fill="#111"/>
<circle cx="127.8" cy="199.5" r="2.15" fill="#111"/>
<circle cx="142.6" cy="202.6" r="2.15" fill="#111"/>
<circle cx="157.4" cy="205.3" r="2.15" fill="#111"/>
<path d="M39,238.1 C41.47,236.85 48.87,233.07 53.8,230.6 C58.73,228.13 63.67,225.75 68.6,223.3 C73.53,220.85 78.47,218.52 83.4,215.9 C88.33,213.28 93.27,210.05 98.2,207.6 C103.13,205.15 109.2,202.63 113,201.2 C116.8,199.77 118.53,199.27 121,199 C123.47,198.73 124.2,199 127.8,199.6 C131.4,200.2 137.67,201.7 142.6,202.6 C147.53,203.5 154.93,204.6 157.4,205" fill="none" stroke="#dc2a3a" stroke-width="1.3" stroke-linejoin="round"/>
<polygon points="39,240.63 36.7,236.38 41.3,236.38" fill="#dc2a3a"/>
<polygon points="53.8,233.13 51.5,228.88 56.1,228.88" fill="#dc2a3a"/>
<polygon points="68.6,225.83 66.3,221.58 70.9,221.58" fill="#dc2a3a"/>
<polygon points="83.4,218.43 81.1,214.18 85.7,214.18" fill="#dc2a3a"/>
<polygon points="98.2,210.13 95.9,205.88 100.5,205.88" fill="#dc2a3a"/>
<polygon points="113,203.73 110.7,199.47 115.3,199.47" fill="#dc2a3a"/>
<polygon points="127.8,202.13 125.5,197.88 130.1,197.88" fill="#dc2a3a"/>
<polygon points="142.6,205.13 140.3,200.88 144.9,200.88" fill="#dc2a3a"/>
<polygon points="157.4,207.53 155.1,203.28 159.7,203.28" fill="#dc2a3a"/>
<path d="M39,252.1 C41.47,251.1 48.87,248.15 53.8,246.1 C58.73,244.05 63.67,241.87 68.6,239.8 C73.53,237.73 78.47,235.63 83.4,233.7 C88.33,231.77 93.27,230.18 98.2,228.2 C103.13,226.22 108.07,223.93 113,221.8 C117.93,219.67 122.87,217.32 127.8,215.4 C132.73,213.48 137.67,211.65 142.6,210.3 C147.53,208.95 154.93,207.8 157.4,207.3" fill="none" stroke="#f4b023" stroke-width="1.3" stroke-linejoin="round"/>
<polygon points="39,254.63 36.7,250.38 41.3,250.38" fill="#f4b023"/>
<polygon points="53.8,248.63 51.5,244.38 56.1,244.38" fill="#f4b023"/>
<polygon points="68.6,242.33 66.3,238.08 70.9,238.08" fill="#f4b023"/>
<polygon points="83.4,236.23 81.1,231.97 85.7,231.97" fill="#f4b023"/>
<polygon points="98.2,230.73 95.9,226.47 100.5,226.47" fill="#f4b023"/>
<polygon points="113,224.33 110.7,220.08 115.3,220.08" fill="#f4b023"/>
<polygon points="127.8,217.93 125.5,213.68 130.1,213.68" fill="#f4b023"/>
<polygon points="142.6,212.83 140.3,208.58 144.9,208.58" fill="#f4b023"/>
<polygon points="157.4,209.83 155.1,205.58 159.7,205.58" fill="#f4b023"/>
<path d="M39,266.3 C41.47,265.63 48.87,263.7 53.8,262.3 C58.73,260.9 63.67,259.4 68.6,257.9 C73.53,256.4 78.47,254.85 83.4,253.3 C88.33,251.75 93.27,250.17 98.2,248.6 C103.13,247.03 108.07,245.43 113,243.9 C117.93,242.37 122.87,241.02 127.8,239.4 C132.73,237.78 137.67,235.85 142.6,234.2 C147.53,232.55 154.93,230.28 157.4,229.5" fill="none" stroke="#3d5aa6" stroke-width="1.3" stroke-linejoin="round"/>
<polygon points="39,268.83 36.7,264.57 41.3,264.57" fill="#3d5aa6"/>
<polygon points="53.8,264.83 51.5,260.57 56.1,260.57" fill="#3d5aa6"/>
<polygon points="68.6,260.43 66.3,256.17 70.9,256.17" fill="#3d5aa6"/>
<polygon points="83.4,255.83 81.1,251.58 85.7,251.58" fill="#3d5aa6"/>
<polygon points="98.2,251.13 95.9,246.88 100.5,246.88" fill="#3d5aa6"/>
<polygon points="113,246.43 110.7,242.18 115.3,242.18" fill="#3d5aa6"/>
<polygon points="127.8,241.93 125.5,237.68 130.1,237.68" fill="#3d5aa6"/>
<polygon points="142.6,236.73 140.3,232.47 144.9,232.47" fill="#3d5aa6"/>
<polygon points="157.4,232.03 155.1,227.78 159.7,227.78" fill="#3d5aa6"/>
<path d="M160.4,206.4 C162.79,207.23 169.97,209.67 174.76,211.4 C179.55,213.13 184.33,215 189.12,216.8 C193.91,218.6 198.69,220.42 203.48,222.2 C208.27,223.98 213.05,225.8 217.84,227.5 C222.63,229.2 227.41,231.2 232.2,232.4 C236.99,233.6 241.77,234.32 246.56,234.7 C251.35,235.08 256.13,234.7 260.92,234.7 C265.71,234.7 272.89,234.7 275.28,234.7" fill="none" stroke="#dc2a3a" stroke-width="1.3" stroke-linejoin="round"/>
<polygon points="160.4,203.87 158.1,208.12 162.7,208.12" fill="#dc2a3a"/>
<polygon points="174.76,208.87 172.46,213.12 177.06,213.12" fill="#dc2a3a"/>
<polygon points="189.12,214.27 186.82,218.53 191.42,218.53" fill="#dc2a3a"/>
<polygon points="203.48,219.67 201.18,223.92 205.78,223.92" fill="#dc2a3a"/>
<polygon points="217.84,224.97 215.54,229.22 220.14,229.22" fill="#dc2a3a"/>
<polygon points="232.2,229.87 229.9,234.12 234.5,234.12" fill="#dc2a3a"/>
<polygon points="246.56,232.17 244.26,236.42 248.86,236.42" fill="#dc2a3a"/>
<polygon points="260.92,232.17 258.62,236.42 263.22,236.42" fill="#dc2a3a"/>
<polygon points="275.28,232.17 272.98,236.42 277.58,236.42" fill="#dc2a3a"/>
<path d="M160.4,199.7 C162.79,200.37 169.97,202.28 174.76,203.7 C179.55,205.12 184.33,206.68 189.12,208.2 C193.91,209.72 198.69,211.33 203.48,212.8 C208.27,214.27 213.05,215.55 217.84,217 C222.63,218.45 227.41,219.97 232.2,221.5 C236.99,223.03 241.77,224.67 246.56,226.2 C251.35,227.73 256.13,229.28 260.92,230.7 C265.71,232.12 272.89,234.03 275.28,234.7" fill="none" stroke="#f4b023" stroke-width="1.3" stroke-linejoin="round"/>
<polygon points="160.4,197.17 158.1,201.42 162.7,201.42" fill="#f4b023"/>
<polygon points="174.76,201.17 172.46,205.42 177.06,205.42" fill="#f4b023"/>
<polygon points="189.12,205.67 186.82,209.92 191.42,209.92" fill="#f4b023"/>
<polygon points="203.48,210.27 201.18,214.53 205.78,214.53" fill="#f4b023"/>
<polygon points="217.84,214.47 215.54,218.72 220.14,218.72" fill="#f4b023"/>
<polygon points="232.2,218.97 229.9,223.22 234.5,223.22" fill="#f4b023"/>
<polygon points="246.56,223.67 244.26,227.92 248.86,227.92" fill="#f4b023"/>
<polygon points="260.92,228.17 258.62,232.42 263.22,232.42" fill="#f4b023"/>
<polygon points="275.28,232.17 272.98,236.42 277.58,236.42" fill="#f4b023"/>
<path d="M160.4,192.3 C162.79,192.87 169.97,194.47 174.76,195.7 C179.55,196.93 184.33,198.43 189.12,199.7 C193.91,200.97 198.69,202.07 203.48,203.3 C208.27,204.53 213.05,205.8 217.84,207.1 C222.63,208.4 227.41,209.8 232.2,211.1 C236.99,212.4 241.77,213.63 246.56,214.9 C251.35,216.17 256.13,217.42 260.92,218.7 C265.71,219.98 272.89,221.95 275.28,222.6" fill="none" stroke="#3d5aa6" stroke-width="1.3" stroke-linejoin="round"/>
<polygon points="160.4,189.77 158.1,194.03 162.7,194.03" fill="#3d5aa6"/>
<polygon points="174.76,193.17 172.46,197.42 177.06,197.42" fill="#3d5aa6"/>
<polygon points="189.12,197.17 186.82,201.42 191.42,201.42" fill="#3d5aa6"/>
<polygon points="203.48,200.77 201.18,205.03 205.78,205.03" fill="#3d5aa6"/>
<polygon points="217.84,204.57 215.54,208.82 220.14,208.82" fill="#3d5aa6"/>
<polygon points="232.2,208.57 229.9,212.82 234.5,212.82" fill="#3d5aa6"/>
<polygon points="246.56,212.37 244.26,216.62 248.86,216.62" fill="#3d5aa6"/>
<polygon points="260.92,216.17 258.62,220.42 263.22,220.42" fill="#3d5aa6"/>
<polygon points="275.28,220.07 272.98,224.32 277.58,224.32" fill="#3d5aa6"/>
<path d="M160.4,234.6 C162.79,234.6 169.97,234.6 174.76,234.6 C179.55,234.6 184.33,234.6 189.12,234.6 C193.91,234.6 198.69,234.6 203.48,234.6 C208.27,234.6 213.05,234.6 217.84,234.6 C222.63,234.6 227.41,234.6 232.2,234.6 C236.99,234.6 241.77,234.6 246.56,234.6 C251.35,234.6 256.13,234.6 260.92,234.6 C265.71,234.6 272.89,234.6 275.28,234.6" fill="none" stroke="#111" stroke-width="1.3" stroke-linejoin="round"/>
<circle cx="160.4" cy="234.6" r="2.15" fill="#111"/>
<circle cx="174.76" cy="234.6" r="2.15" fill="#111"/>
<circle cx="189.12" cy="234.6" r="2.15" fill="#111"/>
<circle cx="203.48" cy="234.6" r="2.15" fill="#111"/>
<circle cx="217.84" cy="234.6" r="2.15" fill="#111"/>
<circle cx="232.2" cy="234.6" r="2.15" fill="#111"/>
<circle cx="246.56" cy="234.6" r="2.15" fill="#111"/>
<circle cx="260.92" cy="234.6" r="2.15" fill="#111"/>
<circle cx="275.28" cy="234.6" r="2.15" fill="#111"/>
<path d="M160.4,262.4 C162.79,261.57 169.97,259.13 174.76,257.4 C179.55,255.67 184.33,253.75 189.12,252 C193.91,250.25 198.69,248.57 203.48,246.9 C208.27,245.23 213.05,243.65 217.84,242 C222.63,240.35 227.41,238.2 232.2,237 C236.99,235.8 241.77,235.18 246.56,234.8 C251.35,234.42 256.13,234.72 260.92,234.7 C265.71,234.68 272.89,234.7 275.28,234.7" fill="none" stroke="#dc2a3a" stroke-width="1.3" stroke-linejoin="round"/>
<polygon points="160.4,264.93 158.1,260.67 162.7,260.67" fill="#dc2a3a"/>
<polygon points="174.76,259.93 172.46,255.67 177.06,255.67" fill="#dc2a3a"/>
<polygon points="189.12,254.53 186.82,250.28 191.42,250.28" fill="#dc2a3a"/>
<polygon points="203.48,249.43 201.18,245.18 205.78,245.18" fill="#dc2a3a"/>
<polygon points="217.84,244.53 215.54,240.28 220.14,240.28" fill="#dc2a3a"/>
<polygon points="232.2,239.53 229.9,235.28 234.5,235.28" fill="#dc2a3a"/>
<polygon points="246.56,237.33 244.26,233.08 248.86,233.08" fill="#dc2a3a"/>
<polygon points="260.92,237.23 258.62,232.97 263.22,232.97" fill="#dc2a3a"/>
<polygon points="275.28,237.23 272.98,232.97 277.58,232.97" fill="#dc2a3a"/>
<path d="M160.4,269.5 C162.79,268.77 169.97,266.62 174.76,265.1 C179.55,263.58 184.33,261.9 189.12,260.4 C193.91,258.9 198.69,257.55 203.48,256.1 C208.27,254.65 213.05,253.15 217.84,251.7 C222.63,250.25 227.41,248.83 232.2,247.4 C236.99,245.97 241.77,244.5 246.56,243.1 C251.35,241.7 256.13,240.3 260.92,239 C265.71,237.7 272.89,235.92 275.28,235.3" fill="none" stroke="#f4b023" stroke-width="1.3" stroke-linejoin="round"/>
<polygon points="160.4,272.03 158.1,267.77 162.7,267.77" fill="#f4b023"/>
<polygon points="174.76,267.63 172.46,263.38 177.06,263.38" fill="#f4b023"/>
<polygon points="189.12,262.93 186.82,258.67 191.42,258.67" fill="#f4b023"/>
<polygon points="203.48,258.63 201.18,254.38 205.78,254.38" fill="#f4b023"/>
<polygon points="217.84,254.23 215.54,249.97 220.14,249.97" fill="#f4b023"/>
<polygon points="232.2,249.93 229.9,245.68 234.5,245.68" fill="#f4b023"/>
<polygon points="246.56,245.63 244.26,241.38 248.86,241.38" fill="#f4b023"/>
<polygon points="260.92,241.53 258.62,237.28 263.22,237.28" fill="#f4b023"/>
<polygon points="275.28,237.83 272.98,233.58 277.58,233.58" fill="#f4b023"/>
<path d="M160.4,276.8 C162.79,276.2 169.97,274.48 174.76,273.2 C179.55,271.92 184.33,270.33 189.12,269.1 C193.91,267.87 198.69,266.97 203.48,265.8 C208.27,264.63 213.05,263.32 217.84,262.1 C222.63,260.88 227.41,259.7 232.2,258.5 C236.99,257.3 241.77,256.13 246.56,254.9 C251.35,253.67 256.13,252.4 260.92,251.1 C265.71,249.8 272.89,247.77 275.28,247.1" fill="none" stroke="#3d5aa6" stroke-width="1.3" stroke-linejoin="round"/>
<polygon points="160.4,279.33 158.1,275.07 162.7,275.07" fill="#3d5aa6"/>
<polygon points="174.76,275.73 172.46,271.47 177.06,271.47" fill="#3d5aa6"/>
<polygon points="189.12,271.63 186.82,267.38 191.42,267.38" fill="#3d5aa6"/>
<polygon points="203.48,268.33 201.18,264.07 205.78,264.07" fill="#3d5aa6"/>
<polygon points="217.84,264.63 215.54,260.38 220.14,260.38" fill="#3d5aa6"/>
<polygon points="232.2,261.03 229.9,256.77 234.5,256.77" fill="#3d5aa6"/>
<polygon points="246.56,257.43 244.26,253.18 248.86,253.18" fill="#3d5aa6"/>
<polygon points="260.92,253.63 258.62,249.38 263.22,249.38" fill="#3d5aa6"/>
<polygon points="275.28,249.63 272.98,245.38 277.58,245.38" fill="#3d5aa6"/>
<path d="M278.6,230.1 C281.06,231.52 288.44,235.92 293.36,238.6 C298.28,241.28 303.2,243.63 308.12,246.2 C313.04,248.77 317.96,251.48 322.88,254 C327.8,256.52 332.72,258.88 337.64,261.3 C342.56,263.72 348.42,266.83 352.4,268.5 C356.38,270.17 359.04,270.97 361.5,271.3 C363.96,271.63 363.76,271.13 367.16,270.5 C370.56,269.87 377,268.5 381.92,267.5 C386.84,266.5 394.22,265 396.68,264.5" fill="none" stroke="#dc2a3a" stroke-width="1.3" stroke-linejoin="round"/>
<polygon points="278.6,227.57 276.3,231.82 280.9,231.82" fill="#dc2a3a"/>
<polygon points="293.36,236.07 291.06,240.32 295.66,240.32" fill="#dc2a3a"/>
<polygon points="308.12,243.67 305.82,247.92 310.42,247.92" fill="#dc2a3a"/>
<polygon points="322.88,251.47 320.58,255.72 325.18,255.72" fill="#dc2a3a"/>
<polygon points="337.64,258.77 335.34,263.03 339.94,263.03" fill="#dc2a3a"/>
<polygon points="352.4,265.97 350.1,270.23 354.7,270.23" fill="#dc2a3a"/>
<polygon points="367.16,267.97 364.86,272.23 369.46,272.23" fill="#dc2a3a"/>
<polygon points="381.92,264.97 379.62,269.23 384.22,269.23" fill="#dc2a3a"/>
<polygon points="396.68,261.97 394.38,266.23 398.98,266.23" fill="#dc2a3a"/>
<path d="M278.6,215.8 C281.06,216.85 288.44,220.02 293.36,222.1 C298.28,224.18 303.2,226.17 308.12,228.3 C313.04,230.43 317.96,232.78 322.88,234.9 C327.8,237.02 332.72,238.95 337.64,241 C342.56,243.05 347.48,244.98 352.4,247.2 C357.32,249.42 362.24,252.22 367.16,254.3 C372.08,256.38 377,258.25 381.92,259.7 C386.84,261.15 394.22,262.45 396.68,263" fill="none" stroke="#f4b023" stroke-width="1.3" stroke-linejoin="round"/>
<polygon points="278.6,213.27 276.3,217.53 280.9,217.53" fill="#f4b023"/>
<polygon points="293.36,219.57 291.06,223.82 295.66,223.82" fill="#f4b023"/>
<polygon points="308.12,225.77 305.82,230.03 310.42,230.03" fill="#f4b023"/>
<polygon points="322.88,232.37 320.58,236.62 325.18,236.62" fill="#f4b023"/>
<polygon points="337.64,238.47 335.34,242.72 339.94,242.72" fill="#f4b023"/>
<polygon points="352.4,244.67 350.1,248.92 354.7,248.92" fill="#f4b023"/>
<polygon points="367.16,251.77 364.86,256.03 369.46,256.03" fill="#f4b023"/>
<polygon points="381.92,257.17 379.62,261.43 384.22,261.43" fill="#f4b023"/>
<polygon points="396.68,260.47 394.38,264.73 398.98,264.73" fill="#f4b023"/>
<path d="M278.6,202 C281.06,202.73 288.44,204.88 293.36,206.4 C298.28,207.92 303.2,209.52 308.12,211.1 C313.04,212.68 317.96,214.32 322.88,215.9 C327.8,217.48 332.72,219 337.64,220.6 C342.56,222.2 347.48,223.88 352.4,225.5 C357.32,227.12 362.24,228.68 367.16,230.3 C372.08,231.92 377,233.5 381.92,235.2 C386.84,236.9 394.22,239.62 396.68,240.5" fill="none" stroke="#3d5aa6" stroke-width="1.3" stroke-linejoin="round"/>
<polygon points="278.6,199.47 276.3,203.72 280.9,203.72" fill="#3d5aa6"/>
<polygon points="293.36,203.87 291.06,208.12 295.66,208.12" fill="#3d5aa6"/>
<polygon points="308.12,208.57 305.82,212.82 310.42,212.82" fill="#3d5aa6"/>
<polygon points="322.88,213.37 320.58,217.62 325.18,217.62" fill="#3d5aa6"/>
<polygon points="337.64,218.07 335.34,222.32 339.94,222.32" fill="#3d5aa6"/>
<polygon points="352.4,222.97 350.1,227.22 354.7,227.22" fill="#3d5aa6"/>
<polygon points="367.16,227.77 364.86,232.03 369.46,232.03" fill="#3d5aa6"/>
<polygon points="381.92,232.67 379.62,236.92 384.22,236.92" fill="#3d5aa6"/>
<polygon points="396.68,237.97 394.38,242.22 398.98,242.22" fill="#3d5aa6"/>
<path d="M278.6,286.2 C281.06,285.75 288.44,284.43 293.36,283.5 C298.28,282.57 303.2,281.5 308.12,280.6 C313.04,279.7 317.96,278.9 322.88,278.1 C327.8,277.3 332.72,276.62 337.64,275.8 C342.56,274.98 347.48,274.08 352.4,273.2 C357.32,272.32 362.24,271.45 367.16,270.5 C372.08,269.55 377,268.5 381.92,267.5 C386.84,266.5 394.22,265 396.68,264.5" fill="none" stroke="#111" stroke-width="1.3" stroke-linejoin="round"/>
<circle cx="278.6" cy="286.2" r="2.15" fill="#111"/>
<circle cx="293.36" cy="283.5" r="2.15" fill="#111"/>
<circle cx="308.12" cy="280.6" r="2.15" fill="#111"/>
<circle cx="322.88" cy="278.1" r="2.15" fill="#111"/>
<circle cx="337.64" cy="275.8" r="2.15" fill="#111"/>
<circle cx="352.4" cy="273.2" r="2.15" fill="#111"/>
<circle cx="367.16" cy="270.5" r="2.15" fill="#111"/>
<circle cx="381.92" cy="267.5" r="2.15" fill="#111"/>
<circle cx="396.68" cy="264.5" r="2.15" fill="#111"/>
<path d="M278.6,286.2 C281.06,285.75 288.44,284.43 293.36,283.5 C298.28,282.57 303.2,281.5 308.12,280.6 C313.04,279.7 317.96,278.9 322.88,278.1 C327.8,277.3 332.72,276.62 337.64,275.8 C342.56,274.98 347.48,274.08 352.4,273.2 C357.32,272.32 362.24,271.45 367.16,270.5 C372.08,269.55 377,268.5 381.92,267.5 C386.84,266.5 394.22,265 396.68,264.5" fill="none" stroke="#3d5aa6" stroke-width="1.3" stroke-linejoin="round"/>
<polygon points="278.6,288.73 276.3,284.47 280.9,284.47" fill="#3d5aa6"/>
<polygon points="293.36,286.03 291.06,281.77 295.66,281.77" fill="#3d5aa6"/>
<polygon points="308.12,283.13 305.82,278.88 310.42,278.88" fill="#3d5aa6"/>
<polygon points="322.88,280.63 320.58,276.38 325.18,276.38" fill="#3d5aa6"/>
<polygon points="337.64,278.33 335.34,274.07 339.94,274.07" fill="#3d5aa6"/>
<polygon points="352.4,275.73 350.1,271.47 354.7,271.47" fill="#3d5aa6"/>
<polygon points="367.16,273.03 364.86,268.77 369.46,268.77" fill="#3d5aa6"/>
<polygon points="381.92,270.03 379.62,265.77 384.22,265.77" fill="#3d5aa6"/>
<polygon points="396.68,267.03 394.38,262.77 398.98,262.77" fill="#3d5aa6"/>
<text x="42" y="289" font-size="10" font-weight="bold" fill="#111" stroke="#111" stroke-width="0.35" textLength="37.3" lengthAdjust="spacingAndGlyphs">(b) QFLs</text>
<text x="383" y="185.6" font-size="9.6" font-weight="normal" fill="#111" stroke="#111" stroke-width="0.5" textLength="4.6" lengthAdjust="spacingAndGlyphs">E</text>
<text x="388.2" y="189.5" font-size="6.2" font-weight="normal" fill="#111" stroke="#111" stroke-width="0.5" textLength="6.8" lengthAdjust="spacingAndGlyphs">CB</text>
<text x="383.2" y="293" font-size="9.6" font-weight="normal" fill="#111" stroke="#111" stroke-width="0.5" textLength="4.6" lengthAdjust="spacingAndGlyphs">E</text>
<text x="388.4" y="296.9" font-size="6.2" font-weight="normal" fill="#111" stroke="#111" stroke-width="0.5" textLength="6.8" lengthAdjust="spacingAndGlyphs">VB</text>
<text x="285" y="262.8" font-size="9.6" font-weight="normal" fill="#777777" stroke="#777777" stroke-width="0.5" textLength="4.6" lengthAdjust="spacingAndGlyphs">E</text>
<text x="290.2" y="266.7" font-size="6.2" font-weight="normal" fill="#777777" stroke="#777777" stroke-width="0.5" textLength="12.6" lengthAdjust="spacingAndGlyphs">+1/0</text>
<text x="19.2" y="183.6" font-size="10" font-weight="normal" fill="#111" stroke="#111" stroke-width="0.5" textLength="12.9" lengthAdjust="spacingAndGlyphs">2.5</text>
<text x="19.2" y="209.28" font-size="10" font-weight="normal" fill="#111" stroke="#111" stroke-width="0.5" textLength="12.9" lengthAdjust="spacingAndGlyphs">2.0</text>
<text x="19.2" y="234.96" font-size="10" font-weight="normal" fill="#111" stroke="#111" stroke-width="0.5" textLength="12.9" lengthAdjust="spacingAndGlyphs">1.5</text>
<text x="19.2" y="260.64" font-size="10" font-weight="normal" fill="#111" stroke="#111" stroke-width="0.5" textLength="12.9" lengthAdjust="spacingAndGlyphs">1.0</text>
<text x="19.2" y="286.32" font-size="10" font-weight="normal" fill="#111" stroke="#111" stroke-width="0.5" textLength="12.9" lengthAdjust="spacingAndGlyphs">0.5</text>
<text x="27.2" y="309.5" font-size="10" font-weight="normal" fill="#111" stroke="#111" stroke-width="0.5" textLength="5.4" lengthAdjust="spacingAndGlyphs">0</text>
<text x="0" y="0" font-size="9.8" font-weight="normal" fill="#111" stroke="#111" stroke-width="0.5" textLength="56" lengthAdjust="spacingAndGlyphs" transform="translate(8.6,267.8) rotate(-90)">Energy (eV)</text>
<line x1="405.5" y1="195.1" x2="421" y2="195.1" stroke="#111" stroke-width="1.5"/>
<polygon points="413.2,192.79 411.1,196.67 415.3,196.67" fill="#111"/>
<text x="421.6" y="198" font-size="9" font-weight="normal" fill="#111" stroke="#111" stroke-width="0.5" textLength="75.3" lengthAdjust="spacingAndGlyphs">μ<tspan font-size="5.4" dy="3.4">Fn</tspan><tspan dy="-3.4">, G = 0 cm</tspan><tspan font-size="5.8" dy="-3.4">-3</tspan><tspan dy="3.4">s</tspan><tspan font-size="5.8" dy="-3.4">-1</tspan></text>
<line x1="405.5" y1="208.57" x2="421" y2="208.57" stroke="#dc2a3a" stroke-width="1.5"/>
<polygon points="413.2,206.26 411.1,210.14 415.3,210.14" fill="#dc2a3a"/>
<text x="421.6" y="211.47" font-size="9" font-weight="normal" fill="#111" stroke="#111" stroke-width="0.5" textLength="86.9" lengthAdjust="spacingAndGlyphs">μ<tspan font-size="5.4" dy="3.4">Fn</tspan><tspan dy="-3.4">, G = 10</tspan><tspan font-size="5.8" dy="-3.4">13</tspan><tspan dy="3.4"> cm</tspan><tspan font-size="5.8" dy="-3.4">-3</tspan><tspan dy="3.4">s</tspan><tspan font-size="5.8" dy="-3.4">-1</tspan></text>
<line x1="405.5" y1="222.04" x2="421" y2="222.04" stroke="#f4b023" stroke-width="1.5"/>
<polygon points="413.2,219.73 411.1,223.61 415.3,223.61" fill="#f4b023"/>
<text x="421.6" y="224.94" font-size="9" font-weight="normal" fill="#111" stroke="#111" stroke-width="0.5" textLength="86.9" lengthAdjust="spacingAndGlyphs">μ<tspan font-size="5.4" dy="3.4">Fn</tspan><tspan dy="-3.4">, G = 10</tspan><tspan font-size="5.8" dy="-3.4">16</tspan><tspan dy="3.4"> cm</tspan><tspan font-size="5.8" dy="-3.4">-3</tspan><tspan dy="3.4">s</tspan><tspan font-size="5.8" dy="-3.4">-1</tspan></text>
<line x1="405.5" y1="235.51" x2="421" y2="235.51" stroke="#3d5aa6" stroke-width="1.5"/>
<polygon points="413.2,233.2 411.1,237.08 415.3,237.08" fill="#3d5aa6"/>
<text x="421.6" y="238.41" font-size="9" font-weight="normal" fill="#111" stroke="#111" stroke-width="0.5" textLength="86.9" lengthAdjust="spacingAndGlyphs">μ<tspan font-size="5.4" dy="3.4">Fn</tspan><tspan dy="-3.4">, G = 10</tspan><tspan font-size="5.8" dy="-3.4">19</tspan><tspan dy="3.4"> cm</tspan><tspan font-size="5.8" dy="-3.4">-3</tspan><tspan dy="3.4">s</tspan><tspan font-size="5.8" dy="-3.4">-1</tspan></text>
<line x1="405.5" y1="248.98" x2="421" y2="248.98" stroke="#111" stroke-width="1.5"/>
<polygon points="413.2,251.29 411.1,247.41 415.3,247.41" fill="#111"/>
<text x="421.6" y="251.88" font-size="9" font-weight="normal" fill="#111" stroke="#111" stroke-width="0.5" textLength="75.3" lengthAdjust="spacingAndGlyphs">μ<tspan font-size="5.4" dy="3.4">Fp</tspan><tspan dy="-3.4">, G = 0 cm</tspan><tspan font-size="5.8" dy="-3.4">-3</tspan><tspan dy="3.4">s</tspan><tspan font-size="5.8" dy="-3.4">-1</tspan></text>
<line x1="405.5" y1="262.45" x2="421" y2="262.45" stroke="#dc2a3a" stroke-width="1.5"/>
<polygon points="413.2,264.76 411.1,260.88 415.3,260.88" fill="#dc2a3a"/>
<text x="421.6" y="265.35" font-size="9" font-weight="normal" fill="#111" stroke="#111" stroke-width="0.5" textLength="86.9" lengthAdjust="spacingAndGlyphs">μ<tspan font-size="5.4" dy="3.4">Fp</tspan><tspan dy="-3.4">, G = 10</tspan><tspan font-size="5.8" dy="-3.4">13</tspan><tspan dy="3.4"> cm</tspan><tspan font-size="5.8" dy="-3.4">-3</tspan><tspan dy="3.4">s</tspan><tspan font-size="5.8" dy="-3.4">-1</tspan></text>
<line x1="405.5" y1="275.92" x2="421" y2="275.92" stroke="#f4b023" stroke-width="1.5"/>
<polygon points="413.2,278.23 411.1,274.35 415.3,274.35" fill="#f4b023"/>
<text x="421.6" y="278.82" font-size="9" font-weight="normal" fill="#111" stroke="#111" stroke-width="0.5" textLength="86.9" lengthAdjust="spacingAndGlyphs">μ<tspan font-size="5.4" dy="3.4">Fp</tspan><tspan dy="-3.4">, G = 10</tspan><tspan font-size="5.8" dy="-3.4">16</tspan><tspan dy="3.4"> cm</tspan><tspan font-size="5.8" dy="-3.4">-3</tspan><tspan dy="3.4">s</tspan><tspan font-size="5.8" dy="-3.4">-1</tspan></text>
<line x1="405.5" y1="289.39" x2="421" y2="289.39" stroke="#3d5aa6" stroke-width="1.5"/>
<polygon points="413.2,291.7 411.1,287.81 415.3,287.81" fill="#3d5aa6"/>
<text x="421.6" y="292.29" font-size="9" font-weight="normal" fill="#111" stroke="#111" stroke-width="0.5" textLength="86.9" lengthAdjust="spacingAndGlyphs">μ<tspan font-size="5.4" dy="3.4">Fp</tspan><tspan dy="-3.4">, G = 10</tspan><tspan font-size="5.8" dy="-3.4">19</tspan><tspan dy="3.4"> cm</tspan><tspan font-size="5.8" dy="-3.4">-3</tspan><tspan dy="3.4">s</tspan><tspan font-size="5.8" dy="-3.4">-1</tspan></text>
<g stroke="#111" stroke-width="1.15" fill="none">
<line x1="36.5" y1="312.9" x2="157.2" y2="312.9"/>
<line x1="36.5" y1="455" x2="157.2" y2="455"/>
<line x1="160.3" y1="312.9" x2="276.2" y2="312.9"/>
<line x1="160.3" y1="455" x2="276.2" y2="455"/>
<line x1="279.4" y1="312.9" x2="399.9" y2="312.9"/>
<line x1="279.4" y1="455" x2="399.9" y2="455"/>
<line x1="36.5" y1="312.35" x2="36.5" y2="455.55"/>
<line x1="399.9" y1="312.35" x2="399.9" y2="455.55"/>
</g><g stroke="#111" stroke-width="1.35" fill="none">
<line x1="36.5" y1="312.9" x2="36.5" y2="316.1"/>
<line x1="36.5" y1="455" x2="36.5" y2="451.8"/>
<line x1="42.5" y1="312.9" x2="42.5" y2="315.7"/>
<line x1="42.5" y1="455" x2="42.5" y2="452.2"/>
<line x1="48.5" y1="312.9" x2="48.5" y2="315.7"/>
<line x1="48.5" y1="455" x2="48.5" y2="452.2"/>
<line x1="54.5" y1="312.9" x2="54.5" y2="315.7"/>
<line x1="54.5" y1="455" x2="54.5" y2="452.2"/>
<line x1="60.5" y1="312.9" x2="60.5" y2="315.7"/>
<line x1="60.5" y1="455" x2="60.5" y2="452.2"/>
<line x1="66.5" y1="312.9" x2="66.5" y2="316.1"/>
<line x1="66.5" y1="455" x2="66.5" y2="451.8"/>
<line x1="72.5" y1="312.9" x2="72.5" y2="315.7"/>
<line x1="72.5" y1="455" x2="72.5" y2="452.2"/>
<line x1="78.5" y1="312.9" x2="78.5" y2="315.7"/>
<line x1="78.5" y1="455" x2="78.5" y2="452.2"/>
<line x1="84.5" y1="312.9" x2="84.5" y2="315.7"/>
<line x1="84.5" y1="455" x2="84.5" y2="452.2"/>
<line x1="90.5" y1="312.9" x2="90.5" y2="315.7"/>
<line x1="90.5" y1="455" x2="90.5" y2="452.2"/>
<line x1="96.5" y1="312.9" x2="96.5" y2="316.1"/>
<line x1="96.5" y1="455" x2="96.5" y2="451.8"/>
<line x1="102.5" y1="312.9" x2="102.5" y2="315.7"/>
<line x1="102.5" y1="455" x2="102.5" y2="452.2"/>
<line x1="108.5" y1="312.9" x2="108.5" y2="315.7"/>
<line x1="108.5" y1="455" x2="108.5" y2="452.2"/>
<line x1="114.5" y1="312.9" x2="114.5" y2="315.7"/>
<line x1="114.5" y1="455" x2="114.5" y2="452.2"/>
<line x1="120.5" y1="312.9" x2="120.5" y2="315.7"/>
<line x1="120.5" y1="455" x2="120.5" y2="452.2"/>
<line x1="127.5" y1="312.9" x2="127.5" y2="316.1"/>
<line x1="127.5" y1="455" x2="127.5" y2="451.8"/>
<line x1="133.5" y1="312.9" x2="133.5" y2="315.7"/>
<line x1="133.5" y1="455" x2="133.5" y2="452.2"/>
<line x1="139.5" y1="312.9" x2="139.5" y2="315.7"/>
<line x1="139.5" y1="455" x2="139.5" y2="452.2"/>
<line x1="145.5" y1="312.9" x2="145.5" y2="315.7"/>
<line x1="145.5" y1="455" x2="145.5" y2="452.2"/>
<line x1="151.5" y1="312.9" x2="151.5" y2="315.7"/>
<line x1="151.5" y1="455" x2="151.5" y2="452.2"/>
<line x1="157.5" y1="312.9" x2="157.5" y2="316.1"/>
<line x1="157.5" y1="455" x2="157.5" y2="451.8"/>
<line x1="160.5" y1="312.9" x2="160.5" y2="316.1"/>
<line x1="160.5" y1="455" x2="160.5" y2="451.8"/>
<line x1="166.5" y1="312.9" x2="166.5" y2="315.7"/>
<line x1="166.5" y1="455" x2="166.5" y2="452.2"/>
<line x1="171.5" y1="312.9" x2="171.5" y2="315.7"/>
<line x1="171.5" y1="455" x2="171.5" y2="452.2"/>
<line x1="177.5" y1="312.9" x2="177.5" y2="315.7"/>
<line x1="177.5" y1="455" x2="177.5" y2="452.2"/>
<line x1="183.5" y1="312.9" x2="183.5" y2="315.7"/>
<line x1="183.5" y1="455" x2="183.5" y2="452.2"/>
<line x1="189.5" y1="312.9" x2="189.5" y2="316.1"/>
<line x1="189.5" y1="455" x2="189.5" y2="451.8"/>
<line x1="195.5" y1="312.9" x2="195.5" y2="315.7"/>
<line x1="195.5" y1="455" x2="195.5" y2="452.2"/>
<line x1="200.5" y1="312.9" x2="200.5" y2="315.7"/>
<line x1="200.5" y1="455" x2="200.5" y2="452.2"/>
<line x1="206.5" y1="312.9" x2="206.5" y2="315.7"/>
<line x1="206.5" y1="455" x2="206.5" y2="452.2"/>
<line x1="212.5" y1="312.9" x2="212.5" y2="315.7"/>
<line x1="212.5" y1="455" x2="212.5" y2="452.2"/>
<line x1="218.5" y1="312.9" x2="218.5" y2="316.1"/>
<line x1="218.5" y1="455" x2="218.5" y2="451.8"/>
<line x1="224.5" y1="312.9" x2="224.5" y2="315.7"/>
<line x1="224.5" y1="455" x2="224.5" y2="452.2"/>
<line x1="229.5" y1="312.9" x2="229.5" y2="315.7"/>
<line x1="229.5" y1="455" x2="229.5" y2="452.2"/>
<line x1="235.5" y1="312.9" x2="235.5" y2="315.7"/>
<line x1="235.5" y1="455" x2="235.5" y2="452.2"/>
<line x1="241.5" y1="312.9" x2="241.5" y2="315.7"/>
<line x1="241.5" y1="455" x2="241.5" y2="452.2"/>
<line x1="247.5" y1="312.9" x2="247.5" y2="316.1"/>
<line x1="247.5" y1="455" x2="247.5" y2="451.8"/>
<line x1="253.5" y1="312.9" x2="253.5" y2="315.7"/>
<line x1="253.5" y1="455" x2="253.5" y2="452.2"/>
<line x1="258.5" y1="312.9" x2="258.5" y2="315.7"/>
<line x1="258.5" y1="455" x2="258.5" y2="452.2"/>
<line x1="264.5" y1="312.9" x2="264.5" y2="315.7"/>
<line x1="264.5" y1="455" x2="264.5" y2="452.2"/>
<line x1="270.5" y1="312.9" x2="270.5" y2="315.7"/>
<line x1="270.5" y1="455" x2="270.5" y2="452.2"/>
<line x1="276.5" y1="312.9" x2="276.5" y2="316.1"/>
<line x1="276.5" y1="455" x2="276.5" y2="451.8"/>
<line x1="279.5" y1="312.9" x2="279.5" y2="316.1"/>
<line x1="279.5" y1="455" x2="279.5" y2="451.8"/>
<line x1="285.5" y1="312.9" x2="285.5" y2="315.7"/>
<line x1="285.5" y1="455" x2="285.5" y2="452.2"/>
<line x1="291.5" y1="312.9" x2="291.5" y2="315.7"/>
<line x1="291.5" y1="455" x2="291.5" y2="452.2"/>
<line x1="297.5" y1="312.9" x2="297.5" y2="315.7"/>
<line x1="297.5" y1="455" x2="297.5" y2="452.2"/>
<line x1="303.5" y1="312.9" x2="303.5" y2="315.7"/>
<line x1="303.5" y1="455" x2="303.5" y2="452.2"/>
<line x1="309.5" y1="312.9" x2="309.5" y2="316.1"/>
<line x1="309.5" y1="455" x2="309.5" y2="451.8"/>
<line x1="315.5" y1="312.9" x2="315.5" y2="315.7"/>
<line x1="315.5" y1="455" x2="315.5" y2="452.2"/>
<line x1="321.5" y1="312.9" x2="321.5" y2="315.7"/>
<line x1="321.5" y1="455" x2="321.5" y2="452.2"/>
<line x1="327.5" y1="312.9" x2="327.5" y2="315.7"/>
<line x1="327.5" y1="455" x2="327.5" y2="452.2"/>
<line x1="333.5" y1="312.9" x2="333.5" y2="315.7"/>
<line x1="333.5" y1="455" x2="333.5" y2="452.2"/>
<line x1="339.5" y1="312.9" x2="339.5" y2="316.1"/>
<line x1="339.5" y1="455" x2="339.5" y2="451.8"/>
<line x1="345.5" y1="312.9" x2="345.5" y2="315.7"/>
<line x1="345.5" y1="455" x2="345.5" y2="452.2"/>
<line x1="351.5" y1="312.9" x2="351.5" y2="315.7"/>
<line x1="351.5" y1="455" x2="351.5" y2="452.2"/>
<line x1="357.5" y1="312.9" x2="357.5" y2="315.7"/>
<line x1="357.5" y1="455" x2="357.5" y2="452.2"/>
<line x1="363.5" y1="312.9" x2="363.5" y2="315.7"/>
<line x1="363.5" y1="455" x2="363.5" y2="452.2"/>
<line x1="369.5" y1="312.9" x2="369.5" y2="316.1"/>
<line x1="369.5" y1="455" x2="369.5" y2="451.8"/>
<line x1="375.5" y1="312.9" x2="375.5" y2="315.7"/>
<line x1="375.5" y1="455" x2="375.5" y2="452.2"/>
<line x1="381.5" y1="312.9" x2="381.5" y2="315.7"/>
<line x1="381.5" y1="455" x2="381.5" y2="452.2"/>
<line x1="387.5" y1="312.9" x2="387.5" y2="315.7"/>
<line x1="387.5" y1="455" x2="387.5" y2="452.2"/>
<line x1="393.5" y1="312.9" x2="393.5" y2="315.7"/>
<line x1="393.5" y1="455" x2="393.5" y2="452.2"/>
<line x1="399.5" y1="312.9" x2="399.5" y2="316.1"/>
<line x1="399.5" y1="455" x2="399.5" y2="451.8"/>
<line x1="36.5" y1="455.5" x2="39.9" y2="455.5"/>
<line x1="399.9" y1="455.5" x2="396.5" y2="455.5"/>
<line x1="36.5" y1="449.5" x2="39.5" y2="449.5"/>
<line x1="399.9" y1="449.5" x2="396.9" y2="449.5"/>
<line x1="36.5" y1="444.5" x2="39.5" y2="444.5"/>
<line x1="399.9" y1="444.5" x2="396.9" y2="444.5"/>
<line x1="36.5" y1="439.5" x2="39.5" y2="439.5"/>
<line x1="399.9" y1="439.5" x2="396.9" y2="439.5"/>
<line x1="36.5" y1="434.5" x2="39.5" y2="434.5"/>
<line x1="399.9" y1="434.5" x2="396.9" y2="434.5"/>
<line x1="36.5" y1="429.5" x2="39.9" y2="429.5"/>
<line x1="399.9" y1="429.5" x2="396.5" y2="429.5"/>
<line x1="36.5" y1="424.5" x2="39.5" y2="424.5"/>
<line x1="399.9" y1="424.5" x2="396.9" y2="424.5"/>
<line x1="36.5" y1="419.5" x2="39.5" y2="419.5"/>
<line x1="399.9" y1="419.5" x2="396.9" y2="419.5"/>
<line x1="36.5" y1="414.5" x2="39.5" y2="414.5"/>
<line x1="399.9" y1="414.5" x2="396.9" y2="414.5"/>
<line x1="36.5" y1="409.5" x2="39.5" y2="409.5"/>
<line x1="399.9" y1="409.5" x2="396.9" y2="409.5"/>
<line x1="36.5" y1="404.5" x2="39.9" y2="404.5"/>
<line x1="399.9" y1="404.5" x2="396.5" y2="404.5"/>
<line x1="36.5" y1="399.5" x2="39.5" y2="399.5"/>
<line x1="399.9" y1="399.5" x2="396.9" y2="399.5"/>
<line x1="36.5" y1="394.5" x2="39.5" y2="394.5"/>
<line x1="399.9" y1="394.5" x2="396.9" y2="394.5"/>
<line x1="36.5" y1="389.5" x2="39.5" y2="389.5"/>
<line x1="399.9" y1="389.5" x2="396.9" y2="389.5"/>
<line x1="36.5" y1="383.5" x2="39.5" y2="383.5"/>
<line x1="399.9" y1="383.5" x2="396.9" y2="383.5"/>
<line x1="36.5" y1="378.5" x2="39.9" y2="378.5"/>
<line x1="399.9" y1="378.5" x2="396.5" y2="378.5"/>
<line x1="36.5" y1="373.5" x2="39.5" y2="373.5"/>
<line x1="399.9" y1="373.5" x2="396.9" y2="373.5"/>
<line x1="36.5" y1="368.5" x2="39.5" y2="368.5"/>
<line x1="399.9" y1="368.5" x2="396.9" y2="368.5"/>
<line x1="36.5" y1="363.5" x2="39.5" y2="363.5"/>
<line x1="399.9" y1="363.5" x2="396.9" y2="363.5"/>
<line x1="36.5" y1="358.5" x2="39.5" y2="358.5"/>
<line x1="399.9" y1="358.5" x2="396.9" y2="358.5"/>
<line x1="36.5" y1="353.5" x2="39.9" y2="353.5"/>
<line x1="399.9" y1="353.5" x2="396.5" y2="353.5"/>
<line x1="36.5" y1="348.5" x2="39.5" y2="348.5"/>
<line x1="399.9" y1="348.5" x2="396.9" y2="348.5"/>
<line x1="36.5" y1="343.5" x2="39.5" y2="343.5"/>
<line x1="399.9" y1="343.5" x2="396.9" y2="343.5"/>
<line x1="36.5" y1="338.5" x2="39.5" y2="338.5"/>
<line x1="399.9" y1="338.5" x2="396.9" y2="338.5"/>
<line x1="36.5" y1="333.5" x2="39.5" y2="333.5"/>
<line x1="399.9" y1="333.5" x2="396.9" y2="333.5"/>
<line x1="36.5" y1="328.5" x2="39.9" y2="328.5"/>
<line x1="399.9" y1="328.5" x2="396.5" y2="328.5"/>
<line x1="36.5" y1="323.5" x2="39.5" y2="323.5"/>
<line x1="399.9" y1="323.5" x2="396.9" y2="323.5"/>
<line x1="36.5" y1="317.5" x2="39.5" y2="317.5"/>
<line x1="399.9" y1="317.5" x2="396.9" y2="317.5"/>
<line x1="36.5" y1="312.5" x2="39.5" y2="312.5"/>
<line x1="399.9" y1="312.5" x2="396.9" y2="312.5"/>
</g>
<path d="M84,454.2 C84.67,454.12 86.5,454 88,453.7 C89.5,453.4 91.33,453.13 93,452.4 C94.67,451.67 96.25,450.57 98,449.3 C99.75,448.03 101.47,447.02 103.5,444.8 C105.53,442.58 108.2,438.37 110.2,436 C112.2,433.63 113.83,431.77 115.5,430.6 C117.17,429.43 118.7,429.1 120.2,429 C121.7,428.9 123.2,429.4 124.5,430 C125.8,430.6 126.57,431.22 128,432.6 C129.43,433.98 130.92,436.2 133.1,438.3 C135.28,440.4 138.42,443.35 141.1,445.2 C143.78,447.05 146.58,448.43 149.2,449.4 C151.82,450.37 155.53,450.73 156.8,451" fill="none" stroke="#dc2a3a" stroke-width="3.4" stroke-linejoin="round"/>
<path d="M100,454.3 C104.5,454.18 120.33,453.82 127,453.6 C133.67,453.38 136.17,453.2 140,453 C143.83,452.8 147.17,452.57 150,452.4 C152.83,452.23 155.83,452.07 157,452" fill="none" stroke="#f4b023" stroke-width="3.0" stroke-linejoin="round"/>
<line x1="37.1" y1="454.3" x2="156.6" y2="454.3" stroke="#3d5aa6" stroke-width="3.0"/>
<line x1="160.9" y1="454.3" x2="275.6" y2="454.3" stroke="#3d5aa6" stroke-width="3.0"/>
<line x1="280" y1="454.3" x2="399.3" y2="454.3" stroke="#3d5aa6" stroke-width="3.0"/>
<g stroke="#111" stroke-width="1.15" fill="none">
<line x1="36.5" y1="455" x2="157.2" y2="455"/>
<line x1="160.3" y1="455" x2="276.2" y2="455"/>
<line x1="279.4" y1="455" x2="399.9" y2="455"/>
</g><g stroke="#111" stroke-width="1.2" fill="none">
<line x1="36.5" y1="455" x2="36.5" y2="452.4"/>
<line x1="42.5" y1="455" x2="42.5" y2="452.4"/>
<line x1="48.5" y1="455" x2="48.5" y2="452.4"/>
<line x1="54.5" y1="455" x2="54.5" y2="452.4"/>
<line x1="60.5" y1="455" x2="60.5" y2="452.4"/>
<line x1="66.5" y1="455" x2="66.5" y2="452.4"/>
<line x1="72.5" y1="455" x2="72.5" y2="452.4"/>
<line x1="78.5" y1="455" x2="78.5" y2="452.4"/>
<line x1="84.5" y1="455" x2="84.5" y2="452.4"/>
<line x1="90.5" y1="455" x2="90.5" y2="452.4"/>
<line x1="96.5" y1="455" x2="96.5" y2="452.4"/>
<line x1="102.5" y1="455" x2="102.5" y2="452.4"/>
<line x1="108.5" y1="455" x2="108.5" y2="452.4"/>
<line x1="114.5" y1="455" x2="114.5" y2="452.4"/>
<line x1="120.5" y1="455" x2="120.5" y2="452.4"/>
<line x1="127.5" y1="455" x2="127.5" y2="452.4"/>
<line x1="133.5" y1="455" x2="133.5" y2="452.4"/>
<line x1="139.5" y1="455" x2="139.5" y2="452.4"/>
<line x1="145.5" y1="455" x2="145.5" y2="452.4"/>
<line x1="151.5" y1="455" x2="151.5" y2="452.4"/>
<line x1="157.5" y1="455" x2="157.5" y2="452.4"/>
<line x1="160.5" y1="455" x2="160.5" y2="452.4"/>
<line x1="166.5" y1="455" x2="166.5" y2="452.4"/>
<line x1="171.5" y1="455" x2="171.5" y2="452.4"/>
<line x1="177.5" y1="455" x2="177.5" y2="452.4"/>
<line x1="183.5" y1="455" x2="183.5" y2="452.4"/>
<line x1="189.5" y1="455" x2="189.5" y2="452.4"/>
<line x1="195.5" y1="455" x2="195.5" y2="452.4"/>
<line x1="200.5" y1="455" x2="200.5" y2="452.4"/>
<line x1="206.5" y1="455" x2="206.5" y2="452.4"/>
<line x1="212.5" y1="455" x2="212.5" y2="452.4"/>
<line x1="218.5" y1="455" x2="218.5" y2="452.4"/>
<line x1="224.5" y1="455" x2="224.5" y2="452.4"/>
<line x1="229.5" y1="455" x2="229.5" y2="452.4"/>
<line x1="235.5" y1="455" x2="235.5" y2="452.4"/>
<line x1="241.5" y1="455" x2="241.5" y2="452.4"/>
<line x1="247.5" y1="455" x2="247.5" y2="452.4"/>
<line x1="253.5" y1="455" x2="253.5" y2="452.4"/>
<line x1="258.5" y1="455" x2="258.5" y2="452.4"/>
<line x1="264.5" y1="455" x2="264.5" y2="452.4"/>
<line x1="270.5" y1="455" x2="270.5" y2="452.4"/>
<line x1="276.5" y1="455" x2="276.5" y2="452.4"/>
<line x1="279.5" y1="455" x2="279.5" y2="452.4"/>
<line x1="285.5" y1="455" x2="285.5" y2="452.4"/>
<line x1="291.5" y1="455" x2="291.5" y2="452.4"/>
<line x1="297.5" y1="455" x2="297.5" y2="452.4"/>
<line x1="303.5" y1="455" x2="303.5" y2="452.4"/>
<line x1="309.5" y1="455" x2="309.5" y2="452.4"/>
<line x1="315.5" y1="455" x2="315.5" y2="452.4"/>
<line x1="321.5" y1="455" x2="321.5" y2="452.4"/>
<line x1="327.5" y1="455" x2="327.5" y2="452.4"/>
<line x1="333.5" y1="455" x2="333.5" y2="452.4"/>
<line x1="339.5" y1="455" x2="339.5" y2="452.4"/>
<line x1="345.5" y1="455" x2="345.5" y2="452.4"/>
<line x1="351.5" y1="455" x2="351.5" y2="452.4"/>
<line x1="357.5" y1="455" x2="357.5" y2="452.4"/>
<line x1="363.5" y1="455" x2="363.5" y2="452.4"/>
<line x1="369.5" y1="455" x2="369.5" y2="452.4"/>
<line x1="375.5" y1="455" x2="375.5" y2="452.4"/>
<line x1="381.5" y1="455" x2="381.5" y2="452.4"/>
<line x1="387.5" y1="455" x2="387.5" y2="452.4"/>
<line x1="393.5" y1="455" x2="393.5" y2="452.4"/>
<line x1="399.5" y1="455" x2="399.5" y2="452.4"/>
</g>
<line x1="37.5" y1="318.8" x2="156.2" y2="326.5" stroke="#111" stroke-width="1.1"/>
<line x1="37.5" y1="417.2" x2="156.2" y2="429.9" stroke="#b2b2b2" stroke-width="1.3"/>
<line x1="37.5" y1="451" x2="156.2" y2="447.9" stroke="#111" stroke-width="1.1"/>
<line x1="161.3" y1="319.1" x2="275.2" y2="326.5" stroke="#111" stroke-width="1.1"/>
<line x1="161.3" y1="417.3" x2="275.2" y2="429.7" stroke="#b2b2b2" stroke-width="1.3"/>
<line x1="161.3" y1="451.7" x2="275.2" y2="448.1" stroke="#111" stroke-width="1.1"/>
<line x1="280.4" y1="318.9" x2="398.9" y2="326.5" stroke="#111" stroke-width="1.1"/>
<line x1="280.4" y1="417.5" x2="398.9" y2="429.5" stroke="#b2b2b2" stroke-width="1.3"/>
<line x1="280.4" y1="451" x2="398.9" y2="447.9" stroke="#111" stroke-width="1.1"/>
<path d="M39,387.8 C41.47,386.55 48.87,382.78 53.8,380.3 C58.73,377.82 63.72,375.4 68.6,372.9 C73.48,370.4 79.28,367.15 83.1,365.3 C86.92,363.45 88.82,362.6 91.5,361.8 C94.18,361 96.63,360.13 99.2,360.5 C101.77,360.87 104.72,362.52 106.9,364 C109.08,365.48 110.37,367.65 112.3,369.4 C114.23,371.15 116.32,374 118.5,374.5 C120.68,375 123.1,373.6 125.4,372.4 C127.7,371.2 130.2,368.77 132.3,367.3 C134.4,365.83 136.28,364.65 138,363.6 C139.72,362.55 140.6,361.73 142.6,361 C144.6,360.27 147.53,359.73 150,359.2 C152.47,358.67 156.17,358.03 157.4,357.8" fill="none" stroke="#dc2a3a" stroke-width="2.9" stroke-dasharray="4.2 2.9" stroke-linejoin="round"/>
<path d="M39,401.8 C41.47,400.8 48.87,397.85 53.8,395.8 C58.73,393.75 63.67,391.53 68.6,389.5 C73.53,387.47 78.47,385.52 83.4,383.6 C88.33,381.68 93.27,380.02 98.2,378 C103.13,375.98 108.07,373.57 113,371.5 C117.93,369.43 122.87,367.35 127.8,365.6 C132.73,363.85 137.67,362.3 142.6,361 C147.53,359.7 154.93,358.33 157.4,357.8" fill="none" stroke="#f4b023" stroke-width="2.9" stroke-dasharray="4.2 2.9" stroke-linejoin="round"/>
<path d="M39,416 C41.47,415.33 48.87,413.4 53.8,412 C58.73,410.6 63.67,409.1 68.6,407.6 C73.53,406.1 78.47,404.55 83.4,403 C88.33,401.45 93.27,399.87 98.2,398.3 C103.13,396.73 108.07,395.13 113,393.6 C117.93,392.07 122.87,390.72 127.8,389.1 C132.73,387.48 137.67,385.55 142.6,383.9 C147.53,382.25 154.93,379.98 157.4,379.2" fill="none" stroke="#3d5aa6" stroke-width="2.9" stroke-dasharray="4.2 2.9" stroke-linejoin="round"/>
<path d="M160.4,412.1 C162.79,411.27 169.97,408.83 174.76,407.1 C179.55,405.37 184.33,403.45 189.12,401.7 C193.91,399.95 198.69,398.27 203.48,396.6 C208.27,394.93 213.05,393.35 217.84,391.7 C222.63,390.05 227.41,387.9 232.2,386.7 C236.99,385.5 241.77,384.88 246.56,384.5 C251.35,384.12 256.13,384.42 260.92,384.4 C265.71,384.38 272.89,384.4 275.28,384.4" fill="none" stroke="#dc2a3a" stroke-width="2.9" stroke-dasharray="4.2 2.9" stroke-linejoin="round"/>
<path d="M160.4,419.2 C162.79,418.47 169.97,416.32 174.76,414.8 C179.55,413.28 184.33,411.6 189.12,410.1 C193.91,408.6 198.69,407.25 203.48,405.8 C208.27,404.35 213.05,402.85 217.84,401.4 C222.63,399.95 227.41,398.53 232.2,397.1 C236.99,395.67 241.77,394.2 246.56,392.8 C251.35,391.4 256.13,390 260.92,388.7 C265.71,387.4 272.89,385.62 275.28,385" fill="none" stroke="#f4b023" stroke-width="2.9" stroke-dasharray="4.2 2.9" stroke-linejoin="round"/>
<path d="M160.4,426.5 C162.79,425.9 169.97,424.18 174.76,422.9 C179.55,421.62 184.33,420.03 189.12,418.8 C193.91,417.57 198.69,416.67 203.48,415.5 C208.27,414.33 213.05,413.02 217.84,411.8 C222.63,410.58 227.41,409.4 232.2,408.2 C236.99,407 241.77,405.83 246.56,404.6 C251.35,403.37 256.13,402.1 260.92,400.8 C265.71,399.5 272.89,397.47 275.28,396.8" fill="none" stroke="#3d5aa6" stroke-width="2.9" stroke-dasharray="4.2 2.9" stroke-linejoin="round"/>
<path d="M278.6,435.9 C281.06,435.45 288.44,434.13 293.36,433.2 C298.28,432.27 303.2,431.2 308.12,430.3 C313.04,429.4 317.96,428.6 322.88,427.8 C327.8,427 332.72,426.32 337.64,425.5 C342.56,424.68 347.48,423.78 352.4,422.9 C357.32,422.02 362.24,421.15 367.16,420.2 C372.08,419.25 377,418.2 381.92,417.2 C386.84,416.2 394.22,414.7 396.68,414.2" fill="none" stroke="#3d5aa6" stroke-width="2.9" stroke-dasharray="4.2 2.9" stroke-linejoin="round"/>
<text x="41.8" y="340.8" font-size="10.2" font-weight="bold" fill="#111" stroke="#111" stroke-width="0.35" textLength="100" lengthAdjust="spacingAndGlyphs">(c) QFL Contributions</text>
<text x="383.2" y="336.8" font-size="9.6" font-weight="normal" fill="#111" stroke="#111" stroke-width="0.5" textLength="4.6" lengthAdjust="spacingAndGlyphs">E</text>
<text x="388.4" y="340.7" font-size="6.2" font-weight="normal" fill="#111" stroke="#111" stroke-width="0.5" textLength="6.8" lengthAdjust="spacingAndGlyphs">CB</text>
<text x="383.2" y="443.2" font-size="9.6" font-weight="normal" fill="#111" stroke="#111" stroke-width="0.5" textLength="4.6" lengthAdjust="spacingAndGlyphs">E</text>
<text x="388.4" y="447.1" font-size="6.2" font-weight="normal" fill="#111" stroke="#111" stroke-width="0.5" textLength="6.8" lengthAdjust="spacingAndGlyphs">VB</text>
<text x="285.2" y="412.2" font-size="9.6" font-weight="normal" fill="#777777" stroke="#777777" stroke-width="0.5" textLength="4.6" lengthAdjust="spacingAndGlyphs">E</text>
<text x="290.4" y="416.1" font-size="6.2" font-weight="normal" fill="#777777" stroke="#777777" stroke-width="0.5" textLength="12.6" lengthAdjust="spacingAndGlyphs">+1/0</text>
<text x="19.2" y="333.3" font-size="10" font-weight="normal" fill="#111" stroke="#111" stroke-width="0.5" textLength="12.9" lengthAdjust="spacingAndGlyphs">2.5</text>
<text x="19.2" y="358.98" font-size="10" font-weight="normal" fill="#111" stroke="#111" stroke-width="0.5" textLength="12.9" lengthAdjust="spacingAndGlyphs">2.0</text>
<text x="19.2" y="384.66" font-size="10" font-weight="normal" fill="#111" stroke="#111" stroke-width="0.5" textLength="12.9" lengthAdjust="spacingAndGlyphs">1.5</text>
<text x="19.2" y="410.34" font-size="10" font-weight="normal" fill="#111" stroke="#111" stroke-width="0.5" textLength="12.9" lengthAdjust="spacingAndGlyphs">1.0</text>
<text x="19.2" y="436.02" font-size="10" font-weight="normal" fill="#111" stroke="#111" stroke-width="0.5" textLength="12.9" lengthAdjust="spacingAndGlyphs">0.5</text>
<text x="27.2" y="459.2" font-size="10" font-weight="normal" fill="#111" stroke="#111" stroke-width="0.5" textLength="5.4" lengthAdjust="spacingAndGlyphs">0</text>
<text x="0" y="0" font-size="9.8" font-weight="normal" fill="#111" stroke="#111" stroke-width="0.5" textLength="54.6" lengthAdjust="spacingAndGlyphs" transform="translate(8.6,416.2) rotate(-90)">Energy (eV)</text>
<line x1="405.8" y1="347.2" x2="420.2" y2="347.2" stroke="#dc2a3a" stroke-width="2.9"/>
<text x="421.6" y="350.1" font-size="9" font-weight="normal" fill="#111" stroke="#111" stroke-width="0.5" textLength="100.6" lengthAdjust="spacingAndGlyphs">μ<tspan font-size="5.4" dy="3.4">FnCont</tspan><tspan dy="-3.4">, G = 10</tspan><tspan font-size="5.8" dy="-3.4">13</tspan><tspan dy="3.4"> cm</tspan><tspan font-size="5.8" dy="-3.4">-3</tspan><tspan dy="3.4">s</tspan><tspan font-size="5.8" dy="-3.4">-1</tspan></text>
<line x1="405.8" y1="360.2" x2="420.2" y2="360.2" stroke="#f4b023" stroke-width="2.9"/>
<text x="421.6" y="363.1" font-size="9" font-weight="normal" fill="#111" stroke="#111" stroke-width="0.5" textLength="100.6" lengthAdjust="spacingAndGlyphs">μ<tspan font-size="5.4" dy="3.4">FnCont</tspan><tspan dy="-3.4">, G = 10</tspan><tspan font-size="5.8" dy="-3.4">16</tspan><tspan dy="3.4"> cm</tspan><tspan font-size="5.8" dy="-3.4">-3</tspan><tspan dy="3.4">s</tspan><tspan font-size="5.8" dy="-3.4">-1</tspan></text>
<line x1="405.8" y1="373.2" x2="420.2" y2="373.2" stroke="#3d5aa6" stroke-width="2.9"/>
<text x="421.6" y="376.1" font-size="9" font-weight="normal" fill="#111" stroke="#111" stroke-width="0.5" textLength="100.6" lengthAdjust="spacingAndGlyphs">μ<tspan font-size="5.4" dy="3.4">FnCont</tspan><tspan dy="-3.4">, G = 10</tspan><tspan font-size="5.8" dy="-3.4">19</tspan><tspan dy="3.4"> cm</tspan><tspan font-size="5.8" dy="-3.4">-3</tspan><tspan dy="3.4">s</tspan><tspan font-size="5.8" dy="-3.4">-1</tspan></text>
<line x1="405.8" y1="386.2" x2="420.2" y2="386.2" stroke="#dc2a3a" stroke-width="2.6" stroke-dasharray="4.2 2.9"/>
<text x="421.6" y="389.1" font-size="9" font-weight="normal" fill="#111" stroke="#111" stroke-width="0.5" textLength="100.6" lengthAdjust="spacingAndGlyphs">μ<tspan font-size="5.4" dy="3.4">FpCont</tspan><tspan dy="-3.4">, G = 10</tspan><tspan font-size="5.8" dy="-3.4">13</tspan><tspan dy="3.4"> cm</tspan><tspan font-size="5.8" dy="-3.4">-3</tspan><tspan dy="3.4">s</tspan><tspan font-size="5.8" dy="-3.4">-1</tspan></text>
<line x1="405.8" y1="399.2" x2="420.2" y2="399.2" stroke="#f4b023" stroke-width="2.6" stroke-dasharray="4.2 2.9"/>
<text x="421.6" y="402.1" font-size="9" font-weight="normal" fill="#111" stroke="#111" stroke-width="0.5" textLength="100.6" lengthAdjust="spacingAndGlyphs">μ<tspan font-size="5.4" dy="3.4">FpCont</tspan><tspan dy="-3.4">, G = 10</tspan><tspan font-size="5.8" dy="-3.4">16</tspan><tspan dy="3.4"> cm</tspan><tspan font-size="5.8" dy="-3.4">-3</tspan><tspan dy="3.4">s</tspan><tspan font-size="5.8" dy="-3.4">-1</tspan></text>
<line x1="405.8" y1="412.2" x2="420.2" y2="412.2" stroke="#3d5aa6" stroke-width="2.6" stroke-dasharray="4.2 2.9"/>
<text x="421.6" y="415.1" font-size="9" font-weight="normal" fill="#111" stroke="#111" stroke-width="0.5" textLength="100.6" lengthAdjust="spacingAndGlyphs">μ<tspan font-size="5.4" dy="3.4">FpCont</tspan><tspan dy="-3.4">, G = 10</tspan><tspan font-size="5.8" dy="-3.4">19</tspan><tspan dy="3.4"> cm</tspan><tspan font-size="5.8" dy="-3.4">-3</tspan><tspan dy="3.4">s</tspan><tspan font-size="5.8" dy="-3.4">-1</tspan></text>
<g stroke="#111" stroke-width="1.15" fill="none">
<line x1="36.5" y1="462.9" x2="157.2" y2="462.9"/>
<line x1="36.5" y1="606.9" x2="157.2" y2="606.9"/>
<line x1="160.3" y1="462.9" x2="276.2" y2="462.9"/>
<line x1="160.3" y1="606.9" x2="276.2" y2="606.9"/>
<line x1="279.4" y1="462.9" x2="399.9" y2="462.9"/>
<line x1="279.4" y1="606.9" x2="399.9" y2="606.9"/>
<line x1="36.5" y1="462.35" x2="36.5" y2="607.45"/>
<line x1="399.9" y1="462.35" x2="399.9" y2="607.45"/>
</g><g stroke="#111" stroke-width="1.35" fill="none">
<line x1="36.5" y1="462.9" x2="36.5" y2="466.1"/>
<line x1="36.5" y1="606.9" x2="36.5" y2="603.7"/>
<line x1="42.5" y1="462.9" x2="42.5" y2="465.7"/>
<line x1="42.5" y1="606.9" x2="42.5" y2="604.1"/>
<line x1="48.5" y1="462.9" x2="48.5" y2="465.7"/>
<line x1="48.5" y1="606.9" x2="48.5" y2="604.1"/>
<line x1="54.5" y1="462.9" x2="54.5" y2="465.7"/>
<line x1="54.5" y1="606.9" x2="54.5" y2="604.1"/>
<line x1="60.5" y1="462.9" x2="60.5" y2="465.7"/>
<line x1="60.5" y1="606.9" x2="60.5" y2="604.1"/>
<line x1="66.5" y1="462.9" x2="66.5" y2="466.1"/>
<line x1="66.5" y1="606.9" x2="66.5" y2="603.7"/>
<line x1="72.5" y1="462.9" x2="72.5" y2="465.7"/>
<line x1="72.5" y1="606.9" x2="72.5" y2="604.1"/>
<line x1="78.5" y1="462.9" x2="78.5" y2="465.7"/>
<line x1="78.5" y1="606.9" x2="78.5" y2="604.1"/>
<line x1="84.5" y1="462.9" x2="84.5" y2="465.7"/>
<line x1="84.5" y1="606.9" x2="84.5" y2="604.1"/>
<line x1="90.5" y1="462.9" x2="90.5" y2="465.7"/>
<line x1="90.5" y1="606.9" x2="90.5" y2="604.1"/>
<line x1="96.5" y1="462.9" x2="96.5" y2="466.1"/>
<line x1="96.5" y1="606.9" x2="96.5" y2="603.7"/>
<line x1="102.5" y1="462.9" x2="102.5" y2="465.7"/>
<line x1="102.5" y1="606.9" x2="102.5" y2="604.1"/>
<line x1="108.5" y1="462.9" x2="108.5" y2="465.7"/>
<line x1="108.5" y1="606.9" x2="108.5" y2="604.1"/>
<line x1="114.5" y1="462.9" x2="114.5" y2="465.7"/>
<line x1="114.5" y1="606.9" x2="114.5" y2="604.1"/>
<line x1="120.5" y1="462.9" x2="120.5" y2="465.7"/>
<line x1="120.5" y1="606.9" x2="120.5" y2="604.1"/>
<line x1="127.5" y1="462.9" x2="127.5" y2="466.1"/>
<line x1="127.5" y1="606.9" x2="127.5" y2="603.7"/>
<line x1="133.5" y1="462.9" x2="133.5" y2="465.7"/>
<line x1="133.5" y1="606.9" x2="133.5" y2="604.1"/>
<line x1="139.5" y1="462.9" x2="139.5" y2="465.7"/>
<line x1="139.5" y1="606.9" x2="139.5" y2="604.1"/>
<line x1="145.5" y1="462.9" x2="145.5" y2="465.7"/>
<line x1="145.5" y1="606.9" x2="145.5" y2="604.1"/>
<line x1="151.5" y1="462.9" x2="151.5" y2="465.7"/>
<line x1="151.5" y1="606.9" x2="151.5" y2="604.1"/>
<line x1="157.5" y1="462.9" x2="157.5" y2="466.1"/>
<line x1="157.5" y1="606.9" x2="157.5" y2="603.7"/>
<line x1="160.5" y1="462.9" x2="160.5" y2="466.1"/>
<line x1="160.5" y1="606.9" x2="160.5" y2="603.7"/>
<line x1="166.5" y1="462.9" x2="166.5" y2="465.7"/>
<line x1="166.5" y1="606.9" x2="166.5" y2="604.1"/>
<line x1="171.5" y1="462.9" x2="171.5" y2="465.7"/>
<line x1="171.5" y1="606.9" x2="171.5" y2="604.1"/>
<line x1="177.5" y1="462.9" x2="177.5" y2="465.7"/>
<line x1="177.5" y1="606.9" x2="177.5" y2="604.1"/>
<line x1="183.5" y1="462.9" x2="183.5" y2="465.7"/>
<line x1="183.5" y1="606.9" x2="183.5" y2="604.1"/>
<line x1="189.5" y1="462.9" x2="189.5" y2="466.1"/>
<line x1="189.5" y1="606.9" x2="189.5" y2="603.7"/>
<line x1="195.5" y1="462.9" x2="195.5" y2="465.7"/>
<line x1="195.5" y1="606.9" x2="195.5" y2="604.1"/>
<line x1="200.5" y1="462.9" x2="200.5" y2="465.7"/>
<line x1="200.5" y1="606.9" x2="200.5" y2="604.1"/>
<line x1="206.5" y1="462.9" x2="206.5" y2="465.7"/>
<line x1="206.5" y1="606.9" x2="206.5" y2="604.1"/>
<line x1="212.5" y1="462.9" x2="212.5" y2="465.7"/>
<line x1="212.5" y1="606.9" x2="212.5" y2="604.1"/>
<line x1="218.5" y1="462.9" x2="218.5" y2="466.1"/>
<line x1="218.5" y1="606.9" x2="218.5" y2="603.7"/>
<line x1="224.5" y1="462.9" x2="224.5" y2="465.7"/>
<line x1="224.5" y1="606.9" x2="224.5" y2="604.1"/>
<line x1="229.5" y1="462.9" x2="229.5" y2="465.7"/>
<line x1="229.5" y1="606.9" x2="229.5" y2="604.1"/>
<line x1="235.5" y1="462.9" x2="235.5" y2="465.7"/>
<line x1="235.5" y1="606.9" x2="235.5" y2="604.1"/>
<line x1="241.5" y1="462.9" x2="241.5" y2="465.7"/>
<line x1="241.5" y1="606.9" x2="241.5" y2="604.1"/>
<line x1="247.5" y1="462.9" x2="247.5" y2="466.1"/>
<line x1="247.5" y1="606.9" x2="247.5" y2="603.7"/>
<line x1="253.5" y1="462.9" x2="253.5" y2="465.7"/>
<line x1="253.5" y1="606.9" x2="253.5" y2="604.1"/>
<line x1="258.5" y1="462.9" x2="258.5" y2="465.7"/>
<line x1="258.5" y1="606.9" x2="258.5" y2="604.1"/>
<line x1="264.5" y1="462.9" x2="264.5" y2="465.7"/>
<line x1="264.5" y1="606.9" x2="264.5" y2="604.1"/>
<line x1="270.5" y1="462.9" x2="270.5" y2="465.7"/>
<line x1="270.5" y1="606.9" x2="270.5" y2="604.1"/>
<line x1="276.5" y1="462.9" x2="276.5" y2="466.1"/>
<line x1="276.5" y1="606.9" x2="276.5" y2="603.7"/>
<line x1="279.5" y1="462.9" x2="279.5" y2="466.1"/>
<line x1="279.5" y1="606.9" x2="279.5" y2="603.7"/>
<line x1="285.5" y1="462.9" x2="285.5" y2="465.7"/>
<line x1="285.5" y1="606.9" x2="285.5" y2="604.1"/>
<line x1="291.5" y1="462.9" x2="291.5" y2="465.7"/>
<line x1="291.5" y1="606.9" x2="291.5" y2="604.1"/>
<line x1="297.5" y1="462.9" x2="297.5" y2="465.7"/>
<line x1="297.5" y1="606.9" x2="297.5" y2="604.1"/>
<line x1="303.5" y1="462.9" x2="303.5" y2="465.7"/>
<line x1="303.5" y1="606.9" x2="303.5" y2="604.1"/>
<line x1="309.5" y1="462.9" x2="309.5" y2="466.1"/>
<line x1="309.5" y1="606.9" x2="309.5" y2="603.7"/>
<line x1="315.5" y1="462.9" x2="315.5" y2="465.7"/>
<line x1="315.5" y1="606.9" x2="315.5" y2="604.1"/>
<line x1="321.5" y1="462.9" x2="321.5" y2="465.7"/>
<line x1="321.5" y1="606.9" x2="321.5" y2="604.1"/>
<line x1="327.5" y1="462.9" x2="327.5" y2="465.7"/>
<line x1="327.5" y1="606.9" x2="327.5" y2="604.1"/>
<line x1="333.5" y1="462.9" x2="333.5" y2="465.7"/>
<line x1="333.5" y1="606.9" x2="333.5" y2="604.1"/>
<line x1="339.5" y1="462.9" x2="339.5" y2="466.1"/>
<line x1="339.5" y1="606.9" x2="339.5" y2="603.7"/>
<line x1="345.5" y1="462.9" x2="345.5" y2="465.7"/>
<line x1="345.5" y1="606.9" x2="345.5" y2="604.1"/>
<line x1="351.5" y1="462.9" x2="351.5" y2="465.7"/>
<line x1="351.5" y1="606.9" x2="351.5" y2="604.1"/>
<line x1="357.5" y1="462.9" x2="357.5" y2="465.7"/>
<line x1="357.5" y1="606.9" x2="357.5" y2="604.1"/>
<line x1="363.5" y1="462.9" x2="363.5" y2="465.7"/>
<line x1="363.5" y1="606.9" x2="363.5" y2="604.1"/>
<line x1="369.5" y1="462.9" x2="369.5" y2="466.1"/>
<line x1="369.5" y1="606.9" x2="369.5" y2="603.7"/>
<line x1="375.5" y1="462.9" x2="375.5" y2="465.7"/>
<line x1="375.5" y1="606.9" x2="375.5" y2="604.1"/>
<line x1="381.5" y1="462.9" x2="381.5" y2="465.7"/>
<line x1="381.5" y1="606.9" x2="381.5" y2="604.1"/>
<line x1="387.5" y1="462.9" x2="387.5" y2="465.7"/>
<line x1="387.5" y1="606.9" x2="387.5" y2="604.1"/>
<line x1="393.5" y1="462.9" x2="393.5" y2="465.7"/>
<line x1="393.5" y1="606.9" x2="393.5" y2="604.1"/>
<line x1="399.5" y1="462.9" x2="399.5" y2="466.1"/>
<line x1="399.5" y1="606.9" x2="399.5" y2="603.7"/>
<line x1="36.5" y1="606.5" x2="39.9" y2="606.5"/>
<line x1="399.9" y1="606.5" x2="396.5" y2="606.5"/>
<line x1="36.5" y1="600.5" x2="39.5" y2="600.5"/>
<line x1="399.9" y1="600.5" x2="396.9" y2="600.5"/>
<line x1="36.5" y1="594.5" x2="39.5" y2="594.5"/>
<line x1="399.9" y1="594.5" x2="396.9" y2="594.5"/>
<line x1="36.5" y1="588.5" x2="39.9" y2="588.5"/>
<line x1="399.9" y1="588.5" x2="396.5" y2="588.5"/>
<line x1="36.5" y1="582.5" x2="39.5" y2="582.5"/>
<line x1="399.9" y1="582.5" x2="396.9" y2="582.5"/>
<line x1="36.5" y1="576.5" x2="39.5" y2="576.5"/>
<line x1="399.9" y1="576.5" x2="396.9" y2="576.5"/>
<line x1="36.5" y1="570.5" x2="39.9" y2="570.5"/>
<line x1="399.9" y1="570.5" x2="396.5" y2="570.5"/>
<line x1="36.5" y1="564.5" x2="39.5" y2="564.5"/>
<line x1="399.9" y1="564.5" x2="396.9" y2="564.5"/>
<line x1="36.5" y1="558.5" x2="39.5" y2="558.5"/>
<line x1="399.9" y1="558.5" x2="396.9" y2="558.5"/>
<line x1="36.5" y1="552.5" x2="39.9" y2="552.5"/>
<line x1="399.9" y1="552.5" x2="396.5" y2="552.5"/>
<line x1="36.5" y1="546.5" x2="39.5" y2="546.5"/>
<line x1="399.9" y1="546.5" x2="396.9" y2="546.5"/>
<line x1="36.5" y1="540.5" x2="39.5" y2="540.5"/>
<line x1="399.9" y1="540.5" x2="396.9" y2="540.5"/>
<line x1="36.5" y1="534.5" x2="39.9" y2="534.5"/>
<line x1="399.9" y1="534.5" x2="396.5" y2="534.5"/>
<line x1="36.5" y1="528.5" x2="39.5" y2="528.5"/>
<line x1="399.9" y1="528.5" x2="396.9" y2="528.5"/>
<line x1="36.5" y1="522.5" x2="39.5" y2="522.5"/>
<line x1="399.9" y1="522.5" x2="396.9" y2="522.5"/>
<line x1="36.5" y1="516.5" x2="39.9" y2="516.5"/>
<line x1="399.9" y1="516.5" x2="396.5" y2="516.5"/>
<line x1="36.5" y1="510.5" x2="39.5" y2="510.5"/>
<line x1="399.9" y1="510.5" x2="396.9" y2="510.5"/>
<line x1="36.5" y1="504.5" x2="39.5" y2="504.5"/>
<line x1="399.9" y1="504.5" x2="396.9" y2="504.5"/>
<line x1="36.5" y1="498.5" x2="39.9" y2="498.5"/>
<line x1="399.9" y1="498.5" x2="396.5" y2="498.5"/>
<line x1="36.5" y1="492.5" x2="39.5" y2="492.5"/>
<line x1="399.9" y1="492.5" x2="396.9" y2="492.5"/>
<line x1="36.5" y1="486.5" x2="39.5" y2="486.5"/>
<line x1="399.9" y1="486.5" x2="396.9" y2="486.5"/>
<line x1="36.5" y1="480.5" x2="39.9" y2="480.5"/>
<line x1="399.9" y1="480.5" x2="396.5" y2="480.5"/>
<line x1="36.5" y1="474.5" x2="39.5" y2="474.5"/>
<line x1="399.9" y1="474.5" x2="396.9" y2="474.5"/>
<line x1="36.5" y1="468.5" x2="39.5" y2="468.5"/>
<line x1="399.9" y1="468.5" x2="396.9" y2="468.5"/>
<line x1="36.5" y1="462.5" x2="39.9" y2="462.5"/>
<line x1="399.9" y1="462.5" x2="396.5" y2="462.5"/>
</g>
<path d="M61.6,606.9 C62.5,605.67 64.95,602.1 67,599.5 C69.05,596.9 71.07,594.48 73.9,591.3 C76.73,588.12 80.48,583.9 84,580.4 C87.52,576.9 91.5,573.5 95,570.3 C98.5,567.1 101.45,564.17 105,561.2 C108.55,558.23 112.63,555.23 116.3,552.5 C119.97,549.77 123.45,547.22 127,544.8 C130.55,542.38 134.27,540.1 137.6,538 C140.93,535.9 143.73,534.1 147,532.2 C150.27,530.3 155.5,527.53 157.2,526.6" fill="none" stroke="#3d5aa6" stroke-width="1.3" stroke-linejoin="round"/>
<path d="M37.6,595.6 C39.17,594.33 43.43,590.7 47,588 C50.57,585.3 55,582.15 59,579.4 C63,576.65 66.98,573.97 71,571.5 C75.02,569.03 79.1,566.68 83.1,564.6 C87.1,562.52 91,560.83 95,559 C99,557.17 103.08,555.53 107.1,553.6 C111.12,551.67 115.08,549.75 119.1,547.4 C123.12,545.05 127.18,542.4 131.2,539.5 C135.22,536.6 140.07,532.48 143.2,530 C146.33,527.52 147.67,526.5 150,524.6 C152.33,522.7 156,519.6 157.2,518.6" fill="none" stroke="#d8343f" stroke-width="1.35" stroke-dasharray="2 1.6" stroke-linejoin="round"/>
<path d="M37.6,577.6 C39.58,575.95 45.28,570.92 49.5,567.7 C53.72,564.48 58.42,561.22 62.9,558.3 C67.38,555.38 71.92,552.78 76.4,550.2 C80.88,547.62 86.53,544.4 89.8,542.8 C93.07,541.2 93.3,541.57 96,540.6 C98.7,539.63 102.92,538.23 106,537 C109.08,535.77 111.55,534.43 114.5,533.2 C117.45,531.97 120.63,530.73 123.7,529.6 C126.77,528.47 129.32,527.65 132.9,526.4 C136.48,525.15 141.15,523.5 145.2,522.1 C149.25,520.7 155.2,518.68 157.2,518" fill="none" stroke="#f2bf3c" stroke-width="1.35" stroke-dasharray="2 1.6" stroke-linejoin="round"/>
<path d="M37.6,560.8 C39,559.58 43.12,555.83 46,553.5 C48.88,551.17 51.9,549.02 54.9,546.8 C57.9,544.58 60.83,542.32 64,540.2 C67.17,538.08 70.57,536.03 73.9,534.1 C77.23,532.17 80.48,530.35 84,528.6 C87.52,526.85 91.5,525.23 95,523.6 C98.5,521.97 101.45,520.38 105,518.8 C108.55,517.22 112.63,515.53 116.3,514.1 C119.97,512.67 123.45,511.42 127,510.2 C130.55,508.98 134.27,507.83 137.6,506.8 C140.93,505.77 143.73,504.87 147,504 C150.27,503.13 155.5,502 157.2,501.6" fill="none" stroke="#3a4c92" stroke-width="1.35" stroke-dasharray="2 1.6" stroke-linejoin="round"/>
<path d="M183.4,606.9 C184.83,605 188.72,599.55 192,595.5 C195.28,591.45 199.27,586.65 203.1,582.6 C206.93,578.55 211,574.8 215,571.2 C219,567.6 223.1,564.27 227.1,561 C231.1,557.73 234.98,554.62 239,551.6 C243.02,548.58 247.2,545.67 251.2,542.9 C255.2,540.13 258.9,537.6 263,535 C267.1,532.4 273.67,528.58 275.8,527.3" fill="none" stroke="#3d5aa6" stroke-width="1.3" stroke-linejoin="round"/>
<path d="M161,567 C162.5,565.47 167,560.62 170,557.8 C173,554.98 175.5,552.77 179,550.1 C182.5,547.43 186.98,544.4 191,541.8 C195.02,539.2 199.1,536.85 203.1,534.5 C207.1,532.15 211,529.9 215,527.7 C219,525.5 223.1,523.48 227.1,521.3 C231.1,519.12 234.98,516.8 239,514.6 C243.02,512.4 247.2,510.1 251.2,508.1 C255.2,506.1 258.9,504.35 263,502.6 C267.1,500.85 273.67,498.43 275.8,497.6" fill="none" stroke="#d8343f" stroke-width="1.35" stroke-dasharray="2 1.6" stroke-linejoin="round"/>
<path d="M161,557.4 C162.5,555.88 167,551.12 170,548.3 C173,545.48 175.5,543.08 179,540.5 C182.5,537.92 186.98,535.2 191,532.8 C195.02,530.4 199.1,528.28 203.1,526.1 C207.1,523.92 211,521.7 215,519.7 C219,517.7 223.1,515.87 227.1,514.1 C231.1,512.33 234.98,510.7 239,509.1 C243.02,507.5 247.2,505.92 251.2,504.5 C255.2,503.08 258.9,501.85 263,500.6 C267.1,499.35 273.67,497.6 275.8,497" fill="none" stroke="#f2bf3c" stroke-width="1.35" stroke-dasharray="2 1.6" stroke-linejoin="round"/>
<path d="M161,549 C162.5,547.6 167,543.22 170,540.6 C173,537.98 175.5,535.83 179,533.3 C182.5,530.77 186.98,527.8 191,525.4 C195.02,523 199.1,521.03 203.1,518.9 C207.1,516.77 211,514.6 215,512.6 C219,510.6 223.1,508.7 227.1,506.9 C231.1,505.1 234.98,503.4 239,501.8 C243.02,500.2 247.2,498.7 251.2,497.3 C255.2,495.9 258.9,494.65 263,493.4 C267.1,492.15 273.67,490.4 275.8,489.8" fill="none" stroke="#3a4c92" stroke-width="1.35" stroke-dasharray="2 1.6" stroke-linejoin="round"/>
<path d="M303.8,606.9 C305.33,604.75 309.78,598.05 313,594 C316.22,589.95 319.43,586.53 323.1,582.6 C326.77,578.67 331,574.2 335,570.4 C339,566.6 343.1,563.17 347.1,559.8 C351.1,556.43 354.98,553.22 359,550.2 C363.02,547.18 367.2,544.33 371.2,541.7 C375.2,539.07 378.33,536.77 383,534.4 C387.67,532.03 396.5,528.65 399.2,527.5" fill="none" stroke="#3d5aa6" stroke-width="1.3" stroke-linejoin="round"/>
<path d="M280.3,536.9 C281.75,535.43 285.88,530.9 289,528.1 C292.12,525.3 295.33,522.82 299,520.1 C302.67,517.38 306.98,514.4 311,511.8 C315.02,509.2 319.1,506.8 323.1,504.5 C327.1,502.2 331,500 335,498 C339,496 343.1,494.18 347.1,492.5 C351.1,490.82 354.98,489.32 359,487.9 C363.02,486.48 367.2,485.25 371.2,484 C375.2,482.75 378.33,481.63 383,480.4 C387.67,479.17 396.5,477.23 399.2,476.6" fill="none" stroke="#3a4c92" stroke-width="1.35" stroke-dasharray="2 1.6" stroke-linejoin="round"/>
<text x="42.3" y="477.5" font-size="10" font-weight="bold" fill="#111" stroke="#111" stroke-width="0.35" textLength="40.4" lengthAdjust="spacingAndGlyphs">(d) Rates</text>
<text x="16.1" y="470.4" font-size="10" font-weight="normal" fill="#111" stroke="#111" stroke-width="0.5" textLength="9.7" lengthAdjust="spacingAndGlyphs">10</text>
<text x="26.4" y="466.5" font-size="5.4" font-weight="normal" fill="#111" stroke="#111" stroke-width="0.5" textLength="6.4" lengthAdjust="spacingAndGlyphs">12</text>
<text x="19.6" y="487.8" font-size="10" font-weight="normal" fill="#111" stroke="#111" stroke-width="0.5" textLength="9.7" lengthAdjust="spacingAndGlyphs">10</text>
<text x="29.9" y="483.9" font-size="5.4" font-weight="normal" fill="#111" stroke="#111" stroke-width="0.5" textLength="2.9" lengthAdjust="spacingAndGlyphs">9</text>
<text x="19.6" y="506.2" font-size="10" font-weight="normal" fill="#111" stroke="#111" stroke-width="0.5" textLength="9.7" lengthAdjust="spacingAndGlyphs">10</text>
<text x="29.9" y="502.3" font-size="5.4" font-weight="normal" fill="#111" stroke="#111" stroke-width="0.5" textLength="2.9" lengthAdjust="spacingAndGlyphs">6</text>
<text x="19.6" y="524" font-size="10" font-weight="normal" fill="#111" stroke="#111" stroke-width="0.5" textLength="9.7" lengthAdjust="spacingAndGlyphs">10</text>
<text x="29.9" y="520.1" font-size="5.4" font-weight="normal" fill="#111" stroke="#111" stroke-width="0.5" textLength="2.9" lengthAdjust="spacingAndGlyphs">3</text>
<text x="19.6" y="541.7" font-size="10" font-weight="normal" fill="#111" stroke="#111" stroke-width="0.5" textLength="9.7" lengthAdjust="spacingAndGlyphs">10</text>
<text x="29.9" y="537.8" font-size="5.4" font-weight="normal" fill="#111" stroke="#111" stroke-width="0.5" textLength="2.9" lengthAdjust="spacingAndGlyphs">0</text>
<text x="18" y="559.8" font-size="10" font-weight="normal" fill="#111" stroke="#111" stroke-width="0.5" textLength="9.7" lengthAdjust="spacingAndGlyphs">10</text>
<text x="28.3" y="555.9" font-size="5.4" font-weight="normal" fill="#111" stroke="#111" stroke-width="0.5" textLength="4.5" lengthAdjust="spacingAndGlyphs">-3</text>
<text x="18" y="578" font-size="10" font-weight="normal" fill="#111" stroke="#111" stroke-width="0.5" textLength="9.7" lengthAdjust="spacingAndGlyphs">10</text>
<text x="28.3" y="574.1" font-size="5.4" font-weight="normal" fill="#111" stroke="#111" stroke-width="0.5" textLength="4.5" lengthAdjust="spacingAndGlyphs">-6</text>
<text x="18" y="595.9" font-size="10" font-weight="normal" fill="#111" stroke="#111" stroke-width="0.5" textLength="9.7" lengthAdjust="spacingAndGlyphs">10</text>
<text x="28.3" y="592" font-size="5.4" font-weight="normal" fill="#111" stroke="#111" stroke-width="0.5" textLength="4.5" lengthAdjust="spacingAndGlyphs">-9</text>
<text x="14.5" y="612.8" font-size="10" font-weight="normal" fill="#111" stroke="#111" stroke-width="0.5" textLength="9.7" lengthAdjust="spacingAndGlyphs">10</text>
<text x="24.8" y="608.9" font-size="5.4" font-weight="normal" fill="#111" stroke="#111" stroke-width="0.5" textLength="8" lengthAdjust="spacingAndGlyphs">-12</text>
<text x="0" y="0" font-size="9.8" font-weight="normal" fill="#111" stroke="#111" stroke-width="0.5" textLength="58.3" lengthAdjust="spacingAndGlyphs" transform="translate(8.6,567.0) rotate(-90)">Rate (cm<tspan font-size="6" dy="-3.6">-3</tspan><tspan dy="3.6">s</tspan><tspan font-size="6" dy="-3.6">-1</tspan><tspan dy="3.6">)</tspan></text>
<text x="30.1" y="618.3" font-size="10" font-weight="normal" fill="#111" stroke="#111" stroke-width="0.5" textLength="16" lengthAdjust="spacingAndGlyphs">200</text>
<text x="59.8" y="618.3" font-size="10" font-weight="normal" fill="#111" stroke="#111" stroke-width="0.5" textLength="16" lengthAdjust="spacingAndGlyphs">300</text>
<text x="89.5" y="618.3" font-size="10" font-weight="normal" fill="#111" stroke="#111" stroke-width="0.5" textLength="16" lengthAdjust="spacingAndGlyphs">400</text>
<text x="119.2" y="618.3" font-size="10" font-weight="normal" fill="#111" stroke="#111" stroke-width="0.5" textLength="16" lengthAdjust="spacingAndGlyphs">500</text>
<text x="152.7" y="618.3" font-size="10" font-weight="normal" fill="#111" stroke="#111" stroke-width="0.5" textLength="16" lengthAdjust="spacingAndGlyphs">200</text>
<text x="181.9" y="618.3" font-size="10" font-weight="normal" fill="#111" stroke="#111" stroke-width="0.5" textLength="16" lengthAdjust="spacingAndGlyphs">300</text>
<text x="211.1" y="618.3" font-size="10" font-weight="normal" fill="#111" stroke="#111" stroke-width="0.5" textLength="16" lengthAdjust="spacingAndGlyphs">400</text>
<text x="240.3" y="618.3" font-size="10" font-weight="normal" fill="#111" stroke="#111" stroke-width="0.5" textLength="16" lengthAdjust="spacingAndGlyphs">500</text>
<text x="272" y="618.3" font-size="10" font-weight="normal" fill="#111" stroke="#111" stroke-width="0.5" textLength="16" lengthAdjust="spacingAndGlyphs">200</text>
<text x="301.7" y="618.3" font-size="10" font-weight="normal" fill="#111" stroke="#111" stroke-width="0.5" textLength="16" lengthAdjust="spacingAndGlyphs">300</text>
<text x="331.4" y="618.3" font-size="10" font-weight="normal" fill="#111" stroke="#111" stroke-width="0.5" textLength="16" lengthAdjust="spacingAndGlyphs">400</text>
<text x="361.1" y="618.3" font-size="10" font-weight="normal" fill="#111" stroke="#111" stroke-width="0.5" textLength="16" lengthAdjust="spacingAndGlyphs">500</text>
<text x="163.8" y="631.4" font-size="10" font-weight="normal" fill="#111" stroke="#111" stroke-width="0.5" textLength="108.9" lengthAdjust="spacingAndGlyphs">Growth Temperature (C)</text>
<line x1="405.8" y1="497.6" x2="420.2" y2="497.6" stroke="#dc2a3a" stroke-width="1.1"/>
<text x="421.4" y="500.1" font-size="9" font-weight="normal" fill="#111" stroke="#111" stroke-width="0.5" textLength="84.6" lengthAdjust="spacingAndGlyphs">r<tspan font-size="5.4" dy="3.4">e,n</tspan><tspan dy="-3.4">, G = 10</tspan><tspan font-size="5.8" dy="-3.4">13</tspan><tspan dy="3.4"> cm</tspan><tspan font-size="5.8" dy="-3.4">-3</tspan><tspan dy="3.4">s</tspan><tspan font-size="5.8" dy="-3.4">-1</tspan></text>
<line x1="405.8" y1="509.9" x2="420.2" y2="509.9" stroke="#f4b023" stroke-width="1.1"/>
<text x="421.4" y="512.4" font-size="9" font-weight="normal" fill="#111" stroke="#111" stroke-width="0.5" textLength="84.6" lengthAdjust="spacingAndGlyphs">r<tspan font-size="5.4" dy="3.4">e,n</tspan><tspan dy="-3.4">, G = 10</tspan><tspan font-size="5.8" dy="-3.4">16</tspan><tspan dy="3.4"> cm</tspan><tspan font-size="5.8" dy="-3.4">-3</tspan><tspan dy="3.4">s</tspan><tspan font-size="5.8" dy="-3.4">-1</tspan></text>
<line x1="405.8" y1="522.2" x2="420.2" y2="522.2" stroke="#3d5aa6" stroke-width="1.1"/>
<text x="421.4" y="524.7" font-size="9" font-weight="normal" fill="#111" stroke="#111" stroke-width="0.5" textLength="84.6" lengthAdjust="spacingAndGlyphs">r<tspan font-size="5.4" dy="3.4">e,n</tspan><tspan dy="-3.4">, G = 10</tspan><tspan font-size="5.8" dy="-3.4">19</tspan><tspan dy="3.4"> cm</tspan><tspan font-size="5.8" dy="-3.4">-3</tspan><tspan dy="3.4">s</tspan><tspan font-size="5.8" dy="-3.4">-1</tspan></text>
<line x1="405.8" y1="534.5" x2="420.2" y2="534.5" stroke="#d8343f" stroke-width="1.2" stroke-dasharray="2 1.6"/>
<text x="421.4" y="537" font-size="9" font-weight="normal" fill="#111" stroke="#111" stroke-width="0.5" textLength="84.6" lengthAdjust="spacingAndGlyphs">r<tspan font-size="5.4" dy="3.4">c,p</tspan><tspan dy="-3.4">, G = 10</tspan><tspan font-size="5.8" dy="-3.4">13</tspan><tspan dy="3.4"> cm</tspan><tspan font-size="5.8" dy="-3.4">-3</tspan><tspan dy="3.4">s</tspan><tspan font-size="5.8" dy="-3.4">-1</tspan></text>
<line x1="405.8" y1="546.8" x2="420.2" y2="546.8" stroke="#f2bf3c" stroke-width="1.2" stroke-dasharray="2 1.6"/>
<text x="421.4" y="549.3" font-size="9" font-weight="normal" fill="#111" stroke="#111" stroke-width="0.5" textLength="84.6" lengthAdjust="spacingAndGlyphs">r<tspan font-size="5.4" dy="3.4">c,p</tspan><tspan dy="-3.4">, G = 10</tspan><tspan font-size="5.8" dy="-3.4">16</tspan><tspan dy="3.4"> cm</tspan><tspan font-size="5.8" dy="-3.4">-3</tspan><tspan dy="3.4">s</tspan><tspan font-size="5.8" dy="-3.4">-1</tspan></text>
<line x1="405.8" y1="559.1" x2="420.2" y2="559.1" stroke="#3a4c92" stroke-width="1.2" stroke-dasharray="2 1.6"/>
<text x="421.4" y="561.6" font-size="9" font-weight="normal" fill="#111" stroke="#111" stroke-width="0.5" textLength="84.6" lengthAdjust="spacingAndGlyphs">r<tspan font-size="5.4" dy="3.4">c,p</tspan><tspan dy="-3.4">, G = 10</tspan><tspan font-size="5.8" dy="-3.4">19</tspan><tspan dy="3.4"> cm</tspan><tspan font-size="5.8" dy="-3.4">-3</tspan><tspan dy="3.4">s</tspan><tspan font-size="5.8" dy="-3.4">-1</tspan></text>
</svg>
</body></html>
